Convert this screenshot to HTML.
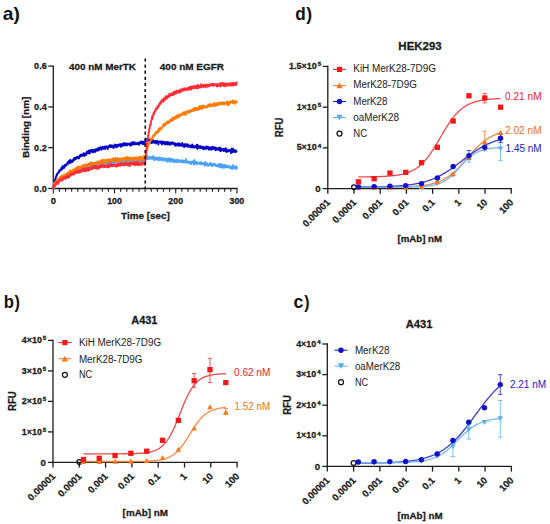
<!DOCTYPE html>
<html><head><meta charset="utf-8"><style>
html,body{margin:0;padding:0;background:#fff;overflow:hidden;}
svg{display:block;font-family:"Liberation Sans", sans-serif;}
</style></head><body>
<svg width="550" height="524" viewBox="0 0 550 524">
<rect width="550" height="524" fill="#fff"/>
<text id="t_a_lab" x="8.20" y="19.70" font-size="18.5" font-weight="bold" fill="#111" text-anchor="middle" textLength="10.68" lengthAdjust="spacingAndGlyphs">a</text>
<text id="t_a_par" x="16.65" y="19.80" font-size="18.5" font-weight="bold" fill="#111" text-anchor="middle" textLength="6.38" lengthAdjust="spacingAndGlyphs">)</text>
<text id="t_d_lab" x="300.40" y="19.70" font-size="18.5" font-weight="bold" fill="#111" text-anchor="middle" textLength="10.48" lengthAdjust="spacingAndGlyphs">d</text>
<text id="t_d_par" x="309.20" y="19.80" font-size="18.5" font-weight="bold" fill="#111" text-anchor="middle" textLength="5.88" lengthAdjust="spacingAndGlyphs">)</text>
<text id="t_b_lab" x="8.95" y="307.70" font-size="18.5" font-weight="bold" fill="#111" text-anchor="middle" textLength="10.18" lengthAdjust="spacingAndGlyphs">b</text>
<text id="t_b_par" x="17.30" y="307.60" font-size="18.5" font-weight="bold" fill="#111" text-anchor="middle" textLength="5.48" lengthAdjust="spacingAndGlyphs">)</text>
<text id="t_c_lab" x="298.50" y="308.00" font-size="18.5" font-weight="bold" fill="#111" text-anchor="middle" textLength="9.88" lengthAdjust="spacingAndGlyphs">c</text>
<text id="t_c_par" x="306.80" y="307.90" font-size="18.5" font-weight="bold" fill="#111" text-anchor="middle" textLength="5.28" lengthAdjust="spacingAndGlyphs">)</text>
<text id="t_a_mertk" x="102.45" y="69.80" font-size="9.3" font-weight="bold" fill="#1a1a1a" text-anchor="middle" textLength="67.04" lengthAdjust="spacingAndGlyphs" stroke="#1a1a1a" stroke-width="0.28">400 nM MerTK</text>
<text id="t_a_egfr" x="191.90" y="69.80" font-size="9.3" font-weight="bold" fill="#1a1a1a" text-anchor="middle" textLength="64.14" lengthAdjust="spacingAndGlyphs" stroke="#1a1a1a" stroke-width="0.28">400 nM EGFR</text>
<text id="t_a_time" x="145.40" y="219.00" font-size="9.6" font-weight="bold" fill="#1a1a1a" text-anchor="middle" textLength="48.57" lengthAdjust="spacingAndGlyphs" stroke="#1a1a1a" stroke-width="0.28">Time [sec]</text>
<text id="t_a_bind" x="0" y="0" font-size="9.6" font-weight="bold" fill="#1a1a1a" text-anchor="middle" textLength="61.17" lengthAdjust="spacingAndGlyphs" transform="translate(29.20 127.30) rotate(-90)" stroke="#1a1a1a" stroke-width="0.28">Binding [nm]</text>
<text id="t_d_title" x="420.00" y="50.30" font-size="11" font-weight="bold" fill="#1a1a1a" text-anchor="middle" textLength="43.28" lengthAdjust="spacingAndGlyphs" stroke="#1a1a1a" stroke-width="0.28">HEK293</text>
<text id="t_b_title" x="144.35" y="323.80" font-size="11" font-weight="bold" fill="#1a1a1a" text-anchor="middle" textLength="26.18" lengthAdjust="spacingAndGlyphs" stroke="#1a1a1a" stroke-width="0.28">A431</text>
<text id="t_c_title" x="419.10" y="327.70" font-size="11" font-weight="bold" fill="#1a1a1a" text-anchor="middle" textLength="26.68" lengthAdjust="spacingAndGlyphs" stroke="#1a1a1a" stroke-width="0.28">A431</text>
<text id="t_d_xl" x="419.75" y="241.80" font-size="9.5" font-weight="bold" fill="#1a1a1a" text-anchor="middle" textLength="44.66" lengthAdjust="spacingAndGlyphs" stroke="#1a1a1a" stroke-width="0.28">[mAb] nM</text>
<text id="t_b_xl" x="145.30" y="515.90" font-size="9.5" font-weight="bold" fill="#1a1a1a" text-anchor="middle" textLength="45.36" lengthAdjust="spacingAndGlyphs" stroke="#1a1a1a" stroke-width="0.28">[mAb] nM</text>
<text id="t_c_xl" x="420.10" y="519.00" font-size="9.5" font-weight="bold" fill="#1a1a1a" text-anchor="middle" textLength="44.96" lengthAdjust="spacingAndGlyphs" stroke="#1a1a1a" stroke-width="0.28">[mAb] nM</text>
<text id="t_d_rfu" x="0" y="0" font-size="10.8" font-weight="bold" fill="#1a1a1a" text-anchor="middle" textLength="19.76" lengthAdjust="spacingAndGlyphs" transform="translate(283.30 127.35) rotate(-90)" stroke="#1a1a1a" stroke-width="0.28">RFU</text>
<text id="t_b_rfu" x="0" y="0" font-size="10.8" font-weight="bold" fill="#1a1a1a" text-anchor="middle" textLength="19.66" lengthAdjust="spacingAndGlyphs" transform="translate(16.20 401.20) rotate(-90)" stroke="#1a1a1a" stroke-width="0.28">RFU</text>
<text id="t_c_rfu" x="0" y="0" font-size="10.8" font-weight="bold" fill="#1a1a1a" text-anchor="middle" textLength="19.66" lengthAdjust="spacingAndGlyphs" transform="translate(291.20 405.00) rotate(-90)" stroke="#1a1a1a" stroke-width="0.28">RFU</text>
<text id="t_d_l1" x="394.65" y="72.00" font-size="10" font-weight="normal" fill="#1a1a1a" text-anchor="middle" textLength="82.70" lengthAdjust="spacingAndGlyphs">KiH MerK28-7D9G</text>
<text id="t_d_l2" x="385.05" y="88.40" font-size="10" font-weight="normal" fill="#1a1a1a" text-anchor="middle" textLength="63.50" lengthAdjust="spacingAndGlyphs">MerK28-7D9G</text>
<text id="t_d_l3" x="370.35" y="104.70" font-size="10" font-weight="normal" fill="#1a1a1a" text-anchor="middle" textLength="34.10" lengthAdjust="spacingAndGlyphs">MerK28</text>
<text id="t_d_l4" x="376.10" y="121.10" font-size="10" font-weight="normal" fill="#1a1a1a" text-anchor="middle" textLength="45.60" lengthAdjust="spacingAndGlyphs">oaMerK28</text>
<text id="t_d_l5" x="360.20" y="136.80" font-size="10" font-weight="normal" fill="#1a1a1a" text-anchor="middle" textLength="13.80" lengthAdjust="spacingAndGlyphs">NC</text>
<text id="t_b_l1" x="120.00" y="346.00" font-size="10" font-weight="normal" fill="#1a1a1a" text-anchor="middle" textLength="82.20" lengthAdjust="spacingAndGlyphs">KiH MerK28-7D9G</text>
<text id="t_b_l2" x="110.70" y="362.60" font-size="10" font-weight="normal" fill="#1a1a1a" text-anchor="middle" textLength="63.60" lengthAdjust="spacingAndGlyphs">MerK28-7D9G</text>
<text id="t_b_l3" x="85.55" y="378.00" font-size="10" font-weight="normal" fill="#1a1a1a" text-anchor="middle" textLength="13.30" lengthAdjust="spacingAndGlyphs">NC</text>
<text id="t_c_l1" x="372.20" y="353.60" font-size="10" font-weight="normal" fill="#1a1a1a" text-anchor="middle" textLength="34.60" lengthAdjust="spacingAndGlyphs">MerK28</text>
<text id="t_c_l2" x="377.50" y="369.60" font-size="10" font-weight="normal" fill="#1a1a1a" text-anchor="middle" textLength="45.20" lengthAdjust="spacingAndGlyphs">oaMerK28</text>
<text id="t_c_l3" x="361.50" y="385.60" font-size="10" font-weight="normal" fill="#1a1a1a" text-anchor="middle" textLength="13.20" lengthAdjust="spacingAndGlyphs">NC</text>
<text id="t_d_e1" x="523.30" y="100.00" font-size="10" font-weight="normal" fill="#f01c2c" text-anchor="middle" textLength="36.80" lengthAdjust="spacingAndGlyphs">0.21 nM</text>
<text id="t_d_e2" x="523.30" y="134.40" font-size="10" font-weight="normal" fill="#f27020" text-anchor="middle" textLength="36.80" lengthAdjust="spacingAndGlyphs">2.02 nM</text>
<text id="t_d_e3" x="523.65" y="152.00" font-size="10" font-weight="normal" fill="#2020c0" text-anchor="middle" textLength="36.10" lengthAdjust="spacingAndGlyphs">1.45 nM</text>
<text id="t_b_e1" x="252.20" y="376.00" font-size="10" font-weight="normal" fill="#f01c2c" text-anchor="middle" textLength="36.20" lengthAdjust="spacingAndGlyphs">0.62 nM</text>
<text id="t_b_e2" x="252.45" y="409.80" font-size="10" font-weight="normal" fill="#f27020" text-anchor="middle" textLength="35.70" lengthAdjust="spacingAndGlyphs">1.52 nM</text>
<text id="t_c_e1" x="528.00" y="387.50" font-size="10" font-weight="normal" fill="#2020c0" text-anchor="middle" textLength="36.20" lengthAdjust="spacingAndGlyphs">2.21 nM</text>
<line x1="53.30" y1="65.50" x2="53.30" y2="189.15" stroke="#1c1c1c" stroke-width="1.3"/>
<line x1="52.65" y1="188.50" x2="237.58" y2="188.50" stroke="#1c1c1c" stroke-width="1.3"/>
<line x1="48.30" y1="188.50" x2="53.30" y2="188.50" stroke="#1c1c1c" stroke-width="1.3"/>
<text id="t_a_y0.0" x="40.40" y="191.80" font-size="9" font-weight="bold" fill="#1a1a1a" text-anchor="middle" textLength="12.52" lengthAdjust="spacingAndGlyphs" stroke="#1a1a1a" stroke-width="0.28">0.0</text>
<line x1="48.30" y1="147.70" x2="53.30" y2="147.70" stroke="#1c1c1c" stroke-width="1.3"/>
<text id="t_a_y0.2" x="40.40" y="151.00" font-size="9" font-weight="bold" fill="#1a1a1a" text-anchor="middle" textLength="12.52" lengthAdjust="spacingAndGlyphs" stroke="#1a1a1a" stroke-width="0.28">0.2</text>
<line x1="48.30" y1="106.90" x2="53.30" y2="106.90" stroke="#1c1c1c" stroke-width="1.3"/>
<text id="t_a_y0.4" x="40.40" y="110.20" font-size="9" font-weight="bold" fill="#1a1a1a" text-anchor="middle" textLength="12.52" lengthAdjust="spacingAndGlyphs" stroke="#1a1a1a" stroke-width="0.28">0.4</text>
<line x1="48.30" y1="66.10" x2="53.30" y2="66.10" stroke="#1c1c1c" stroke-width="1.3"/>
<text id="t_a_y0.6" x="40.40" y="69.40" font-size="9" font-weight="bold" fill="#1a1a1a" text-anchor="middle" textLength="12.52" lengthAdjust="spacingAndGlyphs" stroke="#1a1a1a" stroke-width="0.28">0.6</text>
<line x1="53.30" y1="188.50" x2="53.30" y2="193.50" stroke="#1c1c1c" stroke-width="1.1"/>
<line x1="59.42" y1="188.50" x2="59.42" y2="191.70" stroke="#1c1c1c" stroke-width="1.1"/>
<line x1="65.54" y1="188.50" x2="65.54" y2="191.70" stroke="#1c1c1c" stroke-width="1.1"/>
<line x1="71.66" y1="188.50" x2="71.66" y2="191.70" stroke="#1c1c1c" stroke-width="1.1"/>
<line x1="77.78" y1="188.50" x2="77.78" y2="191.70" stroke="#1c1c1c" stroke-width="1.1"/>
<line x1="83.91" y1="188.50" x2="83.91" y2="191.70" stroke="#1c1c1c" stroke-width="1.1"/>
<line x1="90.03" y1="188.50" x2="90.03" y2="191.70" stroke="#1c1c1c" stroke-width="1.1"/>
<line x1="96.15" y1="188.50" x2="96.15" y2="191.70" stroke="#1c1c1c" stroke-width="1.1"/>
<line x1="102.27" y1="188.50" x2="102.27" y2="191.70" stroke="#1c1c1c" stroke-width="1.1"/>
<line x1="108.39" y1="188.50" x2="108.39" y2="191.70" stroke="#1c1c1c" stroke-width="1.1"/>
<line x1="114.51" y1="188.50" x2="114.51" y2="193.50" stroke="#1c1c1c" stroke-width="1.1"/>
<line x1="120.63" y1="188.50" x2="120.63" y2="191.70" stroke="#1c1c1c" stroke-width="1.1"/>
<line x1="126.75" y1="188.50" x2="126.75" y2="191.70" stroke="#1c1c1c" stroke-width="1.1"/>
<line x1="132.87" y1="188.50" x2="132.87" y2="191.70" stroke="#1c1c1c" stroke-width="1.1"/>
<line x1="138.99" y1="188.50" x2="138.99" y2="191.70" stroke="#1c1c1c" stroke-width="1.1"/>
<line x1="145.12" y1="188.50" x2="145.12" y2="191.70" stroke="#1c1c1c" stroke-width="1.1"/>
<line x1="151.24" y1="188.50" x2="151.24" y2="191.70" stroke="#1c1c1c" stroke-width="1.1"/>
<line x1="157.36" y1="188.50" x2="157.36" y2="191.70" stroke="#1c1c1c" stroke-width="1.1"/>
<line x1="163.48" y1="188.50" x2="163.48" y2="191.70" stroke="#1c1c1c" stroke-width="1.1"/>
<line x1="169.60" y1="188.50" x2="169.60" y2="191.70" stroke="#1c1c1c" stroke-width="1.1"/>
<line x1="175.72" y1="188.50" x2="175.72" y2="193.50" stroke="#1c1c1c" stroke-width="1.1"/>
<line x1="181.84" y1="188.50" x2="181.84" y2="191.70" stroke="#1c1c1c" stroke-width="1.1"/>
<line x1="187.96" y1="188.50" x2="187.96" y2="191.70" stroke="#1c1c1c" stroke-width="1.1"/>
<line x1="194.08" y1="188.50" x2="194.08" y2="191.70" stroke="#1c1c1c" stroke-width="1.1"/>
<line x1="200.20" y1="188.50" x2="200.20" y2="191.70" stroke="#1c1c1c" stroke-width="1.1"/>
<line x1="206.32" y1="188.50" x2="206.32" y2="191.70" stroke="#1c1c1c" stroke-width="1.1"/>
<line x1="212.45" y1="188.50" x2="212.45" y2="191.70" stroke="#1c1c1c" stroke-width="1.1"/>
<line x1="218.57" y1="188.50" x2="218.57" y2="191.70" stroke="#1c1c1c" stroke-width="1.1"/>
<line x1="224.69" y1="188.50" x2="224.69" y2="191.70" stroke="#1c1c1c" stroke-width="1.1"/>
<line x1="230.81" y1="188.50" x2="230.81" y2="191.70" stroke="#1c1c1c" stroke-width="1.1"/>
<line x1="236.93" y1="188.50" x2="236.93" y2="193.50" stroke="#1c1c1c" stroke-width="1.1"/>
<text id="t_a_x0" x="53.30" y="204.00" font-size="9" font-weight="bold" fill="#1a1a1a" text-anchor="middle" textLength="5.22" lengthAdjust="spacingAndGlyphs" stroke="#1a1a1a" stroke-width="0.28">0</text>
<text id="t_a_x100" x="114.51" y="204.00" font-size="9" font-weight="bold" fill="#1a1a1a" text-anchor="middle" textLength="14.72" lengthAdjust="spacingAndGlyphs" stroke="#1a1a1a" stroke-width="0.28">100</text>
<text id="t_a_x200" x="175.72" y="204.00" font-size="9" font-weight="bold" fill="#1a1a1a" text-anchor="middle" textLength="14.72" lengthAdjust="spacingAndGlyphs" stroke="#1a1a1a" stroke-width="0.28">200</text>
<text id="t_a_x300" x="236.93" y="204.00" font-size="9" font-weight="bold" fill="#1a1a1a" text-anchor="middle" textLength="14.72" lengthAdjust="spacingAndGlyphs" stroke="#1a1a1a" stroke-width="0.28">300</text>
<path d="M53.30 188.50 L53.48 187.15 L53.65 185.73 L53.83 184.63 L54.01 184.56 L54.18 183.83 L54.36 184.43 L54.54 185.24 L54.72 183.59 L54.89 183.31 L55.07 184.03 L55.25 183.76 L55.42 183.40 L55.60 182.42 L55.78 182.98 L55.95 183.41 L56.13 181.62 L56.31 182.18 L56.48 180.87 L56.66 181.21 L56.84 180.62 L57.02 181.75 L57.19 180.78 L57.37 181.86 L57.55 181.63 L57.72 181.21 L57.90 179.20 L58.08 180.64 L58.25 180.89 L58.43 180.88 L58.61 179.42 L58.78 180.12 L58.96 179.59 L59.14 179.58 L59.31 180.94 L59.49 179.31 L59.67 179.80 L59.85 180.40 L60.02 179.09 L60.20 179.33 L60.38 179.38 L60.55 179.21 L60.73 178.05 L60.91 178.96 L61.08 179.86 L61.26 177.41 L61.44 179.21 L61.61 178.49 L61.79 177.76 L61.97 179.75 L62.15 178.63 L62.32 176.94 L62.50 177.84 L62.68 178.12 L62.85 177.39 L63.03 177.97 L63.21 177.25 L63.38 177.72 L63.56 178.22 L63.74 176.41 L63.91 177.00 L64.09 176.35 L64.27 176.71 L64.45 175.54 L64.62 175.92 L64.80 176.11 L64.98 176.88 L65.15 176.96 L65.33 174.88 L65.51 175.19 L65.68 176.24 L65.86 174.02 L66.04 175.14 L66.21 175.32 L66.39 176.30 L66.57 175.74 L66.74 174.82 L66.92 174.69 L67.10 174.68 L67.28 176.00 L67.45 174.33 L67.63 174.33 L67.81 174.76 L67.98 174.28 L68.16 174.12 L68.34 173.29 L68.51 174.07 L68.69 173.63 L68.87 174.82 L69.04 174.32 L69.22 173.68 L69.40 174.14 L69.58 173.24 L69.75 174.26 L69.93 173.32 L70.11 173.70 L70.28 172.11 L70.46 173.33 L70.64 171.61 L70.81 171.24 L70.99 172.54 L71.17 171.97 L71.34 172.74 L71.52 174.31 L71.70 171.77 L71.88 171.85 L72.05 172.42 L72.23 172.57 L72.41 171.95 L72.58 171.84 L72.76 172.48 L72.94 172.26 L73.11 170.93 L73.29 171.61 L73.47 171.62 L73.64 170.67 L73.82 171.64 L74.00 170.67 L74.18 172.05 L74.35 171.35 L74.53 171.19 L74.71 170.57 L74.88 170.87 L75.06 169.29 L75.24 169.90 L75.41 171.02 L75.59 168.96 L75.77 171.26 L75.94 169.11 L76.12 171.04 L76.30 169.69 L76.47 170.91 L76.65 170.32 L76.83 168.92 L77.01 171.07 L77.18 171.16 L77.36 169.88 L77.54 169.64 L77.71 169.66 L77.89 168.94 L78.07 170.53 L78.24 169.15 L78.42 169.48 L78.60 168.82 L78.77 168.88 L78.95 168.30 L79.13 170.26 L79.31 169.06 L79.48 169.89 L79.66 169.07 L79.84 168.44 L80.01 168.67 L80.19 168.42 L80.37 168.81 L80.54 168.44 L80.72 168.44 L80.90 167.51 L81.07 167.91 L81.25 169.82 L81.43 167.89 L81.61 167.53 L81.78 168.58 L81.96 169.38 L82.14 167.03 L82.31 167.97 L82.49 167.57 L82.67 166.61 L82.84 168.55 L83.02 167.88 L83.20 167.90 L83.37 167.19 L83.55 168.10 L83.73 167.25 L83.91 167.51 L84.08 166.68 L84.26 166.54 L84.44 168.53 L84.61 167.00 L84.79 167.58 L84.97 167.27 L85.14 166.89 L85.32 166.78 L85.50 167.64 L85.67 166.85 L85.85 166.91 L86.03 167.00 L86.20 167.87 L86.38 167.43 L86.56 167.14 L86.74 166.33 L86.91 165.63 L87.09 167.44 L87.27 167.41 L87.44 166.47 L87.62 166.97 L87.80 167.11 L87.97 167.11 L88.15 167.13 L88.33 165.98 L88.50 167.51 L88.68 165.26 L88.86 166.90 L89.04 166.56 L89.21 166.81 L89.39 167.57 L89.57 167.21 L89.74 165.06 L89.92 164.59 L90.10 166.55 L90.27 165.04 L90.45 165.79 L90.63 166.43 L90.80 164.40 L90.98 163.99 L91.16 165.84 L91.34 165.63 L91.51 165.35 L91.69 165.54 L91.87 164.78 L92.04 164.21 L92.22 165.25 L92.40 164.57 L92.57 163.99 L92.75 165.67 L92.93 165.17 L93.10 165.51 L93.28 164.35 L93.46 164.58 L93.63 164.27 L93.81 164.32 L93.99 165.15 L94.17 164.33 L94.34 165.20 L94.52 165.15 L94.70 166.46 L94.87 163.69 L95.05 165.48 L95.23 164.66 L95.40 164.68 L95.58 163.50 L95.76 164.25 L95.93 165.18 L96.11 164.48 L96.29 164.58 L96.47 164.25 L96.64 165.37 L96.82 164.39 L97.00 162.62 L97.17 163.79 L97.35 162.73 L97.53 161.67 L97.70 163.82 L97.88 165.27 L98.06 164.21 L98.23 163.20 L98.41 163.36 L98.59 164.98 L98.77 164.17 L98.94 164.05 L99.12 163.94 L99.30 163.98 L99.47 164.56 L99.65 164.33 L99.83 164.03 L100.00 162.99 L100.18 164.20 L100.36 163.22 L100.53 164.61 L100.71 162.69 L100.89 163.57 L101.07 163.64 L101.24 162.56 L101.42 164.96 L101.60 164.73 L101.77 163.16 L101.95 164.12 L102.13 163.78 L102.30 161.35 L102.48 163.62 L102.66 163.34 L102.83 163.43 L103.01 162.47 L103.19 163.09 L103.36 163.14 L103.54 164.20 L103.72 163.49 L103.90 163.19 L104.07 164.40 L104.25 162.70 L104.43 162.81 L104.60 161.64 L104.78 164.32 L104.96 163.81 L105.13 163.75 L105.31 163.53 L105.49 163.05 L105.66 163.11 L105.84 162.72 L106.02 162.73 L106.20 162.91 L106.37 164.05 L106.55 163.26 L106.73 162.75 L106.90 162.31 L107.08 162.24 L107.26 164.01 L107.43 163.11 L107.61 162.73 L107.79 162.38 L107.96 161.74 L108.14 162.56 L108.32 163.29 L108.50 162.25 L108.67 162.36 L108.85 162.34 L109.03 162.59 L109.20 161.20 L109.38 162.27 L109.56 161.75 L109.73 163.12 L109.91 161.77 L110.09 162.83 L110.26 163.57 L110.44 162.08 L110.62 161.82 L110.79 162.44 L110.97 162.26 L111.15 161.45 L111.33 162.59 L111.50 163.82 L111.68 161.98 L111.86 162.00 L112.03 161.31 L112.21 162.38 L112.39 161.11 L112.56 161.20 L112.74 163.09 L112.92 161.32 L113.09 162.89 L113.27 163.23 L113.45 162.20 L113.63 162.41 L113.80 163.51 L113.98 161.78 L114.16 161.44 L114.33 160.82 L114.51 161.91 L114.69 163.05 L114.86 162.61 L115.04 161.07 L115.22 161.13 L115.39 161.39 L115.57 162.01 L115.75 161.59 L115.93 161.91 L116.10 161.96 L116.28 161.47 L116.46 161.66 L116.63 161.84 L116.81 161.59 L116.99 162.04 L117.16 163.12 L117.34 162.08 L117.52 161.64 L117.69 160.23 L117.87 161.87 L118.05 159.99 L118.23 160.40 L118.40 162.20 L118.58 162.06 L118.76 161.36 L118.93 160.10 L119.11 161.15 L119.29 160.89 L119.46 161.93 L119.64 163.21 L119.82 161.56 L119.99 160.75 L120.17 160.42 L120.35 161.30 L120.52 161.19 L120.70 160.40 L120.88 161.40 L121.06 160.37 L121.23 162.16 L121.41 162.11 L121.59 162.12 L121.76 160.85 L121.94 161.63 L122.12 161.10 L122.29 160.88 L122.47 160.91 L122.65 160.13 L122.82 160.00 L123.00 161.77 L123.18 160.97 L123.36 161.29 L123.53 161.90 L123.71 159.70 L123.89 160.45 L124.06 161.20 L124.24 161.36 L124.42 160.74 L124.59 161.85 L124.77 161.18 L124.95 160.03 L125.12 160.24 L125.30 161.62 L125.48 161.33 L125.66 159.43 L125.83 162.02 L126.01 161.41 L126.19 161.99 L126.36 160.60 L126.54 160.66 L126.72 159.98 L126.89 162.90 L127.07 160.72 L127.25 162.12 L127.42 160.32 L127.60 160.96 L127.78 159.48 L127.95 160.50 L128.13 161.58 L128.31 159.78 L128.49 161.63 L128.66 161.03 L128.84 159.91 L129.02 160.34 L129.19 160.36 L129.37 160.68 L129.55 160.28 L129.72 160.03 L129.90 160.44 L130.08 159.85 L130.25 159.63 L130.43 160.62 L130.61 161.35 L130.79 159.41 L130.96 160.63 L131.14 160.10 L131.32 159.82 L131.49 161.28 L131.67 160.17 L131.85 161.78 L132.02 159.94 L132.20 160.87 L132.38 160.37 L132.55 159.94 L132.73 161.00 L132.91 160.40 L133.09 160.99 L133.26 160.47 L133.44 159.63 L133.62 160.40 L133.79 160.52 L133.97 161.23 L134.15 159.73 L134.32 160.42 L134.50 159.06 L134.68 160.95 L134.85 159.56 L135.03 158.97 L135.21 160.36 L135.39 161.28 L135.56 159.17 L135.74 159.51 L135.92 159.78 L136.09 159.46 L136.27 160.66 L136.45 159.70 L136.62 159.76 L136.80 160.80 L136.98 159.72 L137.15 160.66 L137.33 159.53 L137.51 159.33 L137.68 158.83 L137.86 161.78 L138.04 160.02 L138.22 160.47 L138.39 160.24 L138.57 160.39 L138.75 160.29 L138.92 161.77 L139.10 159.40 L139.28 158.98 L139.45 159.41 L139.63 159.15 L139.81 160.80 L139.98 160.86 L140.16 159.42 L140.34 159.07 L140.52 159.89 L140.69 161.28 L140.87 157.91 L141.05 160.58 L141.22 159.29 L141.40 160.98 L141.58 159.28 L141.75 159.90 L141.93 158.92 L142.11 159.34 L142.28 161.22 L142.46 160.76 L142.64 159.78 L142.82 159.40 L142.99 158.57 L143.17 159.76 L143.35 160.05 L143.52 160.00 L143.70 159.99 L143.88 159.16 L144.05 160.00 L144.23 160.01 L144.41 161.07 L144.58 161.52 L144.76 159.91 L144.94 159.41 L145.12 159.96" fill="none" stroke="#4ea2f5" stroke-width="1.8" stroke-linejoin="round"/>
<path d="M53.30 188.01 L53.48 186.83 L53.65 186.37 L53.83 184.63 L54.01 185.07 L54.18 183.66 L54.36 183.16 L54.54 182.08 L54.72 180.95 L54.89 180.11 L55.07 180.06 L55.25 179.22 L55.42 179.29 L55.60 178.57 L55.78 176.99 L55.95 177.66 L56.13 176.07 L56.31 176.22 L56.48 176.07 L56.66 174.25 L56.84 175.61 L57.02 175.29 L57.19 174.70 L57.37 174.15 L57.55 173.87 L57.72 173.08 L57.90 173.35 L58.08 172.83 L58.25 173.07 L58.43 171.76 L58.61 172.65 L58.78 172.33 L58.96 171.85 L59.14 171.37 L59.31 171.93 L59.49 169.93 L59.67 171.41 L59.85 171.01 L60.02 170.83 L60.20 170.70 L60.38 169.67 L60.55 169.78 L60.73 170.30 L60.91 169.94 L61.08 169.57 L61.26 168.01 L61.44 169.47 L61.61 169.79 L61.79 169.48 L61.97 168.69 L62.15 167.08 L62.32 168.91 L62.50 167.87 L62.68 165.79 L62.85 167.95 L63.03 166.29 L63.21 166.29 L63.38 166.65 L63.56 168.02 L63.74 166.55 L63.91 166.91 L64.09 167.93 L64.27 167.66 L64.45 166.15 L64.62 165.89 L64.80 164.92 L64.98 165.23 L65.15 165.98 L65.33 165.81 L65.51 165.43 L65.68 166.00 L65.86 164.44 L66.04 164.87 L66.21 165.36 L66.39 165.11 L66.57 165.36 L66.74 164.68 L66.92 163.98 L67.10 164.38 L67.28 163.16 L67.45 162.51 L67.63 164.16 L67.81 163.52 L67.98 163.68 L68.16 161.94 L68.34 162.88 L68.51 162.56 L68.69 162.22 L68.87 160.98 L69.04 162.39 L69.22 163.25 L69.40 162.72 L69.58 161.81 L69.75 162.15 L69.93 162.65 L70.11 159.71 L70.28 161.70 L70.46 162.11 L70.64 162.11 L70.81 162.80 L70.99 162.23 L71.17 161.46 L71.34 161.33 L71.52 161.60 L71.70 160.43 L71.88 160.71 L72.05 161.36 L72.23 162.09 L72.41 160.28 L72.58 160.26 L72.76 160.34 L72.94 161.15 L73.11 159.94 L73.29 161.03 L73.47 158.97 L73.64 159.49 L73.82 159.37 L74.00 160.05 L74.18 160.15 L74.35 158.01 L74.53 158.38 L74.71 159.27 L74.88 158.37 L75.06 157.58 L75.24 159.53 L75.41 158.99 L75.59 158.89 L75.77 158.01 L75.94 159.12 L76.12 158.00 L76.30 158.97 L76.47 157.27 L76.65 157.21 L76.83 157.96 L77.01 157.14 L77.18 158.15 L77.36 157.72 L77.54 156.68 L77.71 157.38 L77.89 156.95 L78.07 157.87 L78.24 156.54 L78.42 156.60 L78.60 157.83 L78.77 158.56 L78.95 158.28 L79.13 156.64 L79.31 156.67 L79.48 157.64 L79.66 156.22 L79.84 155.45 L80.01 156.24 L80.19 156.42 L80.37 155.31 L80.54 154.57 L80.72 154.65 L80.90 156.25 L81.07 155.02 L81.25 155.43 L81.43 155.63 L81.61 155.88 L81.78 155.03 L81.96 155.61 L82.14 154.42 L82.31 154.76 L82.49 154.15 L82.67 155.80 L82.84 154.79 L83.02 154.14 L83.20 154.37 L83.37 154.40 L83.55 155.06 L83.73 153.14 L83.91 153.51 L84.08 153.96 L84.26 156.22 L84.44 154.88 L84.61 153.95 L84.79 154.53 L84.97 155.54 L85.14 153.63 L85.32 153.45 L85.50 154.64 L85.67 153.99 L85.85 154.06 L86.03 153.05 L86.20 154.92 L86.38 154.68 L86.56 153.69 L86.74 153.72 L86.91 151.48 L87.09 153.54 L87.27 152.81 L87.44 153.24 L87.62 153.37 L87.80 152.48 L87.97 151.34 L88.15 152.92 L88.33 151.96 L88.50 152.23 L88.68 151.94 L88.86 152.08 L89.04 150.45 L89.21 153.20 L89.39 152.37 L89.57 152.99 L89.74 153.62 L89.92 151.99 L90.10 150.47 L90.27 151.13 L90.45 150.82 L90.63 151.32 L90.80 151.73 L90.98 150.00 L91.16 151.81 L91.34 150.27 L91.51 151.66 L91.69 151.27 L91.87 151.05 L92.04 151.18 L92.22 150.75 L92.40 150.63 L92.57 149.72 L92.75 150.99 L92.93 152.43 L93.10 152.48 L93.28 151.90 L93.46 151.35 L93.63 150.18 L93.81 151.82 L93.99 150.57 L94.17 150.50 L94.34 150.27 L94.52 150.52 L94.70 150.05 L94.87 150.28 L95.05 149.42 L95.23 149.94 L95.40 152.01 L95.58 150.07 L95.76 149.89 L95.93 150.45 L96.11 150.54 L96.29 149.03 L96.47 149.71 L96.64 150.56 L96.82 149.99 L97.00 149.82 L97.17 150.91 L97.35 149.08 L97.53 149.64 L97.70 149.11 L97.88 150.67 L98.06 147.86 L98.23 148.84 L98.41 148.91 L98.59 149.81 L98.77 149.72 L98.94 150.30 L99.12 147.88 L99.30 149.69 L99.47 148.81 L99.65 148.47 L99.83 149.39 L100.00 148.17 L100.18 147.20 L100.36 148.52 L100.53 147.58 L100.71 148.21 L100.89 148.98 L101.07 148.89 L101.24 149.87 L101.42 148.40 L101.60 147.29 L101.77 147.86 L101.95 147.69 L102.13 147.41 L102.30 148.69 L102.48 147.78 L102.66 146.68 L102.83 148.77 L103.01 148.09 L103.19 148.42 L103.36 148.18 L103.54 148.56 L103.72 148.04 L103.90 148.96 L104.07 148.27 L104.25 148.21 L104.43 148.18 L104.60 146.65 L104.78 147.64 L104.96 147.53 L105.13 147.87 L105.31 146.57 L105.49 148.93 L105.66 147.67 L105.84 146.58 L106.02 146.14 L106.20 147.25 L106.37 147.36 L106.55 146.82 L106.73 147.44 L106.90 146.81 L107.08 147.73 L107.26 146.68 L107.43 147.19 L107.61 147.97 L107.79 149.21 L107.96 146.31 L108.14 146.71 L108.32 146.37 L108.50 147.64 L108.67 146.06 L108.85 146.55 L109.03 146.88 L109.20 146.09 L109.38 146.07 L109.56 146.43 L109.73 145.09 L109.91 145.58 L110.09 146.38 L110.26 146.79 L110.44 146.49 L110.62 145.19 L110.79 146.21 L110.97 147.19 L111.15 146.96 L111.33 146.42 L111.50 145.74 L111.68 146.93 L111.86 145.93 L112.03 145.43 L112.21 145.69 L112.39 147.46 L112.56 146.45 L112.74 147.17 L112.92 145.83 L113.09 146.93 L113.27 145.67 L113.45 146.00 L113.63 148.08 L113.80 146.68 L113.98 145.63 L114.16 145.94 L114.33 146.24 L114.51 146.92 L114.69 145.53 L114.86 144.50 L115.04 145.64 L115.22 145.85 L115.39 145.90 L115.57 146.84 L115.75 146.01 L115.93 146.38 L116.10 144.82 L116.28 146.37 L116.46 147.33 L116.63 146.24 L116.81 145.80 L116.99 145.69 L117.16 146.97 L117.34 144.78 L117.52 145.40 L117.69 145.83 L117.87 146.04 L118.05 145.07 L118.23 145.64 L118.40 145.14 L118.58 145.44 L118.76 145.21 L118.93 144.38 L119.11 145.25 L119.29 145.95 L119.46 144.45 L119.64 145.00 L119.82 145.70 L119.99 144.29 L120.17 145.27 L120.35 144.25 L120.52 145.99 L120.70 146.91 L120.88 146.65 L121.06 144.83 L121.23 145.58 L121.41 145.06 L121.59 145.02 L121.76 146.16 L121.94 143.84 L122.12 145.72 L122.29 144.81 L122.47 145.96 L122.65 144.96 L122.82 144.25 L123.00 144.99 L123.18 145.33 L123.36 144.75 L123.53 145.09 L123.71 144.26 L123.89 142.95 L124.06 145.36 L124.24 145.18 L124.42 144.72 L124.59 144.63 L124.77 145.39 L124.95 144.17 L125.12 143.95 L125.30 144.35 L125.48 145.43 L125.66 143.35 L125.83 145.39 L126.01 143.91 L126.19 143.52 L126.36 145.39 L126.54 144.29 L126.72 143.30 L126.89 144.04 L127.07 145.05 L127.25 145.24 L127.42 143.93 L127.60 144.58 L127.78 144.80 L127.95 143.70 L128.13 144.48 L128.31 144.15 L128.49 143.73 L128.66 143.75 L128.84 144.18 L129.02 144.13 L129.19 143.64 L129.37 143.73 L129.55 144.95 L129.72 144.21 L129.90 144.73 L130.08 144.96 L130.25 144.46 L130.43 145.79 L130.61 143.29 L130.79 144.58 L130.96 143.67 L131.14 145.39 L131.32 145.25 L131.49 142.31 L131.67 143.08 L131.85 144.37 L132.02 144.45 L132.20 144.40 L132.38 143.73 L132.55 144.14 L132.73 144.28 L132.91 143.68 L133.09 144.55 L133.26 141.91 L133.44 144.21 L133.62 142.86 L133.79 144.44 L133.97 143.47 L134.15 142.93 L134.32 143.92 L134.50 142.88 L134.68 142.86 L134.85 142.33 L135.03 143.54 L135.21 143.95 L135.39 144.35 L135.56 143.41 L135.74 144.35 L135.92 143.51 L136.09 143.41 L136.27 143.93 L136.45 144.30 L136.62 143.17 L136.80 143.23 L136.98 143.28 L137.15 143.46 L137.33 142.66 L137.51 144.19 L137.68 143.04 L137.86 143.71 L138.04 142.67 L138.22 143.61 L138.39 143.62 L138.57 142.96 L138.75 144.90 L138.92 143.56 L139.10 144.68 L139.28 144.01 L139.45 142.70 L139.63 142.91 L139.81 143.55 L139.98 143.24 L140.16 143.22 L140.34 142.94 L140.52 141.71 L140.69 142.96 L140.87 141.36 L141.05 143.42 L141.22 142.53 L141.40 142.52 L141.58 142.91 L141.75 143.29 L141.93 141.92 L142.11 141.65 L142.28 142.19 L142.46 141.39 L142.64 142.24 L142.82 144.28 L142.99 142.15 L143.17 143.50 L143.35 141.87 L143.52 143.20 L143.70 142.69 L143.88 142.89 L144.05 143.38 L144.23 144.32 L144.41 143.06 L144.58 143.00 L144.76 142.11 L144.94 143.34 L145.12 142.67" fill="none" stroke="#0404c8" stroke-width="1.8" stroke-linejoin="round"/>
<path d="M53.30 189.17 L53.48 186.62 L53.65 186.94 L53.83 183.26 L54.01 184.14 L54.18 184.75 L54.36 183.50 L54.54 182.92 L54.72 183.14 L54.89 182.06 L55.07 183.09 L55.25 184.77 L55.42 183.57 L55.60 181.60 L55.78 181.62 L55.95 181.83 L56.13 182.80 L56.31 181.18 L56.48 181.12 L56.66 182.22 L56.84 182.05 L57.02 180.90 L57.19 180.15 L57.37 179.65 L57.55 180.18 L57.72 178.80 L57.90 181.03 L58.08 179.78 L58.25 180.52 L58.43 181.48 L58.61 180.78 L58.78 178.77 L58.96 180.24 L59.14 180.33 L59.31 178.66 L59.49 178.35 L59.67 178.88 L59.85 177.55 L60.02 179.87 L60.20 176.63 L60.38 177.53 L60.55 178.06 L60.73 177.96 L60.91 178.13 L61.08 178.08 L61.26 177.56 L61.44 178.51 L61.61 175.76 L61.79 177.33 L61.97 176.63 L62.15 177.18 L62.32 177.12 L62.50 176.09 L62.68 176.18 L62.85 177.20 L63.03 176.72 L63.21 175.77 L63.38 177.82 L63.56 177.91 L63.74 174.77 L63.91 176.06 L64.09 177.71 L64.27 176.21 L64.45 175.64 L64.62 175.18 L64.80 174.79 L64.98 174.94 L65.15 174.55 L65.33 175.47 L65.51 174.44 L65.68 174.29 L65.86 173.57 L66.04 174.38 L66.21 173.59 L66.39 174.05 L66.57 174.92 L66.74 174.27 L66.92 174.27 L67.10 174.04 L67.28 173.70 L67.45 173.44 L67.63 173.19 L67.81 173.94 L67.98 172.36 L68.16 174.19 L68.34 173.05 L68.51 172.32 L68.69 172.42 L68.87 172.17 L69.04 172.74 L69.22 171.94 L69.40 173.32 L69.58 171.69 L69.75 170.39 L69.93 171.53 L70.11 170.41 L70.28 171.89 L70.46 172.67 L70.64 172.25 L70.81 170.56 L70.99 170.93 L71.17 172.87 L71.34 171.61 L71.52 171.27 L71.70 172.01 L71.88 173.04 L72.05 172.03 L72.23 171.01 L72.41 171.09 L72.58 171.21 L72.76 170.14 L72.94 169.70 L73.11 170.50 L73.29 169.61 L73.47 170.24 L73.64 170.28 L73.82 171.99 L74.00 169.35 L74.18 169.85 L74.35 169.73 L74.53 170.13 L74.71 170.53 L74.88 169.22 L75.06 168.88 L75.24 168.14 L75.41 168.63 L75.59 169.72 L75.77 169.25 L75.94 168.32 L76.12 168.76 L76.30 169.01 L76.47 169.31 L76.65 168.35 L76.83 168.55 L77.01 167.22 L77.18 167.68 L77.36 169.82 L77.54 166.70 L77.71 168.11 L77.89 168.48 L78.07 167.93 L78.24 167.51 L78.42 168.04 L78.60 168.01 L78.77 167.88 L78.95 166.37 L79.13 167.69 L79.31 167.05 L79.48 167.23 L79.66 167.78 L79.84 168.04 L80.01 168.18 L80.19 167.00 L80.37 168.07 L80.54 168.20 L80.72 168.10 L80.90 168.24 L81.07 166.95 L81.25 166.86 L81.43 167.59 L81.61 165.78 L81.78 166.97 L81.96 166.32 L82.14 166.39 L82.31 165.23 L82.49 165.84 L82.67 166.48 L82.84 167.14 L83.02 167.17 L83.20 166.25 L83.37 166.10 L83.55 165.53 L83.73 166.46 L83.91 165.88 L84.08 166.50 L84.26 167.36 L84.44 165.87 L84.61 164.65 L84.79 165.10 L84.97 164.56 L85.14 164.72 L85.32 166.66 L85.50 165.74 L85.67 164.29 L85.85 165.98 L86.03 166.41 L86.20 165.06 L86.38 164.75 L86.56 164.97 L86.74 165.41 L86.91 165.64 L87.09 166.02 L87.27 166.00 L87.44 165.92 L87.62 166.01 L87.80 165.40 L87.97 163.60 L88.15 164.67 L88.33 164.97 L88.50 164.36 L88.68 165.35 L88.86 164.28 L89.04 163.78 L89.21 165.63 L89.39 164.96 L89.57 164.55 L89.74 165.07 L89.92 165.13 L90.10 164.51 L90.27 162.22 L90.45 163.60 L90.63 163.73 L90.80 163.26 L90.98 164.17 L91.16 164.92 L91.34 163.53 L91.51 162.96 L91.69 165.45 L91.87 163.42 L92.04 162.75 L92.22 163.89 L92.40 163.99 L92.57 163.05 L92.75 164.20 L92.93 163.14 L93.10 162.74 L93.28 163.58 L93.46 164.02 L93.63 162.85 L93.81 163.58 L93.99 163.20 L94.17 165.50 L94.34 162.63 L94.52 164.26 L94.70 163.07 L94.87 162.98 L95.05 163.61 L95.23 163.71 L95.40 163.97 L95.58 163.18 L95.76 162.40 L95.93 162.41 L96.11 163.21 L96.29 163.23 L96.47 163.85 L96.64 163.03 L96.82 163.51 L97.00 163.84 L97.17 162.72 L97.35 161.36 L97.53 161.57 L97.70 161.33 L97.88 163.72 L98.06 161.73 L98.23 163.36 L98.41 162.81 L98.59 163.68 L98.77 163.07 L98.94 162.15 L99.12 162.04 L99.30 162.24 L99.47 162.27 L99.65 161.68 L99.83 162.04 L100.00 163.32 L100.18 160.64 L100.36 162.18 L100.53 161.21 L100.71 162.06 L100.89 162.55 L101.07 161.80 L101.24 162.43 L101.42 160.51 L101.60 162.64 L101.77 161.24 L101.95 162.19 L102.13 161.80 L102.30 159.56 L102.48 160.99 L102.66 161.74 L102.83 162.78 L103.01 161.74 L103.19 161.69 L103.36 160.32 L103.54 162.57 L103.72 162.84 L103.90 161.39 L104.07 161.16 L104.25 160.01 L104.43 161.99 L104.60 163.42 L104.78 161.80 L104.96 162.21 L105.13 161.60 L105.31 160.36 L105.49 162.19 L105.66 160.10 L105.84 160.90 L106.02 161.26 L106.20 161.72 L106.37 161.32 L106.55 161.27 L106.73 160.33 L106.90 159.88 L107.08 160.93 L107.26 160.29 L107.43 159.79 L107.61 159.80 L107.79 160.39 L107.96 159.28 L108.14 159.66 L108.32 159.40 L108.50 160.83 L108.67 160.99 L108.85 162.24 L109.03 159.42 L109.20 160.05 L109.38 161.30 L109.56 160.37 L109.73 160.26 L109.91 161.87 L110.09 160.21 L110.26 159.53 L110.44 159.38 L110.62 160.68 L110.79 160.63 L110.97 159.27 L111.15 159.56 L111.33 160.75 L111.50 160.76 L111.68 159.76 L111.86 160.76 L112.03 160.69 L112.21 158.79 L112.39 159.95 L112.56 160.51 L112.74 159.69 L112.92 158.42 L113.09 159.89 L113.27 160.69 L113.45 161.34 L113.63 158.30 L113.80 162.12 L113.98 159.11 L114.16 160.76 L114.33 160.96 L114.51 160.74 L114.69 160.05 L114.86 158.99 L115.04 160.40 L115.22 159.31 L115.39 157.84 L115.57 162.10 L115.75 160.39 L115.93 161.26 L116.10 159.06 L116.28 160.94 L116.46 161.02 L116.63 160.98 L116.81 159.70 L116.99 158.73 L117.16 159.54 L117.34 157.90 L117.52 158.28 L117.69 159.70 L117.87 158.82 L118.05 159.46 L118.23 159.49 L118.40 161.10 L118.58 160.58 L118.76 159.49 L118.93 160.48 L119.11 158.87 L119.29 159.21 L119.46 160.19 L119.64 158.45 L119.82 159.21 L119.99 158.36 L120.17 159.49 L120.35 160.69 L120.52 158.76 L120.70 159.53 L120.88 158.62 L121.06 158.40 L121.23 158.32 L121.41 160.45 L121.59 161.16 L121.76 159.65 L121.94 158.67 L122.12 159.79 L122.29 158.95 L122.47 159.84 L122.65 159.42 L122.82 159.40 L123.00 159.64 L123.18 158.68 L123.36 158.81 L123.53 157.74 L123.71 158.75 L123.89 157.95 L124.06 158.96 L124.24 158.30 L124.42 159.13 L124.59 159.40 L124.77 157.89 L124.95 158.36 L125.12 158.24 L125.30 159.58 L125.48 160.33 L125.66 159.64 L125.83 158.66 L126.01 160.10 L126.19 157.71 L126.36 160.11 L126.54 158.37 L126.72 156.66 L126.89 160.99 L127.07 160.12 L127.25 158.02 L127.42 158.97 L127.60 158.65 L127.78 158.89 L127.95 157.61 L128.13 158.24 L128.31 159.15 L128.49 158.94 L128.66 159.71 L128.84 158.80 L129.02 160.61 L129.19 158.14 L129.37 158.91 L129.55 157.16 L129.72 157.68 L129.90 159.73 L130.08 157.91 L130.25 159.07 L130.43 158.59 L130.61 157.79 L130.79 158.34 L130.96 158.19 L131.14 158.21 L131.32 159.19 L131.49 159.10 L131.67 158.10 L131.85 157.83 L132.02 158.77 L132.20 158.45 L132.38 159.35 L132.55 160.64 L132.73 159.18 L132.91 158.47 L133.09 158.35 L133.26 157.79 L133.44 157.74 L133.62 157.65 L133.79 158.13 L133.97 158.09 L134.15 159.02 L134.32 158.10 L134.50 158.25 L134.68 157.42 L134.85 159.70 L135.03 158.79 L135.21 159.80 L135.39 159.00 L135.56 159.54 L135.74 158.14 L135.92 158.91 L136.09 160.49 L136.27 157.34 L136.45 159.25 L136.62 159.66 L136.80 158.63 L136.98 158.89 L137.15 159.30 L137.33 157.73 L137.51 158.59 L137.68 157.54 L137.86 157.69 L138.04 157.73 L138.22 158.11 L138.39 158.34 L138.57 158.58 L138.75 157.04 L138.92 159.81 L139.10 159.13 L139.28 158.77 L139.45 157.88 L139.63 158.09 L139.81 158.60 L139.98 158.48 L140.16 156.76 L140.34 158.74 L140.52 160.51 L140.69 156.60 L140.87 158.92 L141.05 158.40 L141.22 158.00 L141.40 159.21 L141.58 157.11 L141.75 158.21 L141.93 159.27 L142.11 157.90 L142.28 157.71 L142.46 158.14 L142.64 157.67 L142.82 159.30 L142.99 157.28 L143.17 158.73 L143.35 156.98 L143.52 158.55 L143.70 157.91 L143.88 155.87 L144.05 157.98 L144.23 157.10 L144.41 157.60 L144.58 159.23 L144.76 157.04 L144.94 157.08 L145.12 159.13" fill="none" stroke="#ff7a06" stroke-width="1.8" stroke-linejoin="round"/>
<path d="M53.30 188.60 L53.48 188.60 L53.65 186.88 L53.83 185.42 L54.01 185.76 L54.18 186.58 L54.36 186.13 L54.54 185.18 L54.72 185.05 L54.89 184.76 L55.07 184.23 L55.25 186.15 L55.42 184.42 L55.60 183.34 L55.78 183.73 L55.95 184.58 L56.13 184.37 L56.31 183.59 L56.48 183.01 L56.66 183.44 L56.84 181.91 L57.02 182.08 L57.19 183.67 L57.37 182.49 L57.55 183.06 L57.72 183.62 L57.90 183.02 L58.08 182.37 L58.25 183.97 L58.43 182.64 L58.61 181.67 L58.78 182.44 L58.96 182.05 L59.14 180.88 L59.31 181.52 L59.49 181.20 L59.67 179.60 L59.85 180.95 L60.02 180.74 L60.20 180.49 L60.38 179.38 L60.55 180.32 L60.73 180.46 L60.91 180.46 L61.08 179.32 L61.26 180.66 L61.44 179.03 L61.61 179.73 L61.79 180.87 L61.97 179.12 L62.15 179.15 L62.32 180.34 L62.50 179.03 L62.68 179.00 L62.85 179.31 L63.03 179.89 L63.21 177.10 L63.38 178.13 L63.56 177.87 L63.74 177.70 L63.91 177.79 L64.09 177.70 L64.27 178.53 L64.45 177.45 L64.62 178.18 L64.80 178.30 L64.98 177.27 L65.15 177.88 L65.33 179.02 L65.51 177.84 L65.68 176.95 L65.86 177.32 L66.04 176.53 L66.21 177.41 L66.39 177.79 L66.57 176.32 L66.74 176.73 L66.92 177.71 L67.10 176.30 L67.28 176.77 L67.45 175.69 L67.63 175.77 L67.81 175.93 L67.98 177.99 L68.16 175.84 L68.34 175.65 L68.51 175.54 L68.69 175.77 L68.87 176.34 L69.04 175.88 L69.22 177.28 L69.40 175.72 L69.58 176.62 L69.75 175.60 L69.93 175.78 L70.11 174.06 L70.28 175.03 L70.46 174.99 L70.64 174.77 L70.81 173.16 L70.99 175.51 L71.17 174.42 L71.34 174.30 L71.52 174.36 L71.70 174.31 L71.88 174.74 L72.05 173.32 L72.23 173.51 L72.41 174.41 L72.58 174.22 L72.76 173.73 L72.94 173.49 L73.11 173.21 L73.29 173.76 L73.47 174.67 L73.64 172.81 L73.82 174.80 L74.00 174.19 L74.18 173.08 L74.35 174.00 L74.53 172.13 L74.71 171.84 L74.88 172.13 L75.06 172.76 L75.24 172.76 L75.41 172.54 L75.59 172.96 L75.77 171.11 L75.94 173.15 L76.12 171.55 L76.30 172.09 L76.47 172.22 L76.65 171.56 L76.83 171.32 L77.01 171.55 L77.18 172.28 L77.36 172.70 L77.54 172.62 L77.71 171.31 L77.89 171.41 L78.07 171.24 L78.24 172.28 L78.42 170.22 L78.60 172.78 L78.77 171.35 L78.95 171.05 L79.13 171.89 L79.31 172.38 L79.48 171.77 L79.66 172.28 L79.84 171.49 L80.01 172.31 L80.19 172.26 L80.37 171.13 L80.54 172.30 L80.72 171.23 L80.90 171.11 L81.07 170.25 L81.25 170.70 L81.43 171.50 L81.61 169.77 L81.78 171.29 L81.96 170.99 L82.14 170.88 L82.31 168.84 L82.49 170.47 L82.67 171.02 L82.84 169.84 L83.02 170.47 L83.20 168.44 L83.37 170.83 L83.55 169.72 L83.73 170.89 L83.91 168.67 L84.08 170.65 L84.26 169.86 L84.44 170.64 L84.61 169.21 L84.79 169.41 L84.97 171.65 L85.14 169.14 L85.32 169.19 L85.50 169.49 L85.67 168.85 L85.85 170.57 L86.03 170.95 L86.20 168.96 L86.38 168.10 L86.56 170.37 L86.74 170.28 L86.91 170.00 L87.09 170.23 L87.27 168.56 L87.44 169.08 L87.62 168.06 L87.80 167.99 L87.97 169.87 L88.15 168.51 L88.33 170.82 L88.50 169.02 L88.68 168.40 L88.86 169.51 L89.04 170.28 L89.21 169.18 L89.39 167.78 L89.57 169.01 L89.74 169.77 L89.92 168.24 L90.10 167.97 L90.27 169.37 L90.45 168.63 L90.63 167.59 L90.80 168.13 L90.98 167.79 L91.16 168.60 L91.34 168.41 L91.51 169.21 L91.69 168.82 L91.87 166.96 L92.04 168.50 L92.22 168.86 L92.40 168.47 L92.57 168.89 L92.75 167.59 L92.93 167.23 L93.10 168.70 L93.28 167.07 L93.46 166.16 L93.63 168.67 L93.81 167.24 L93.99 167.54 L94.17 166.63 L94.34 166.66 L94.52 166.76 L94.70 167.36 L94.87 167.91 L95.05 165.75 L95.23 168.15 L95.40 166.57 L95.58 166.63 L95.76 168.00 L95.93 167.36 L96.11 166.16 L96.29 168.84 L96.47 166.64 L96.64 167.50 L96.82 167.43 L97.00 168.37 L97.17 166.84 L97.35 167.98 L97.53 166.55 L97.70 168.01 L97.88 166.48 L98.06 166.77 L98.23 168.55 L98.41 167.25 L98.59 167.06 L98.77 168.74 L98.94 167.20 L99.12 166.23 L99.30 167.45 L99.47 165.88 L99.65 167.70 L99.83 167.74 L100.00 166.29 L100.18 166.22 L100.36 166.83 L100.53 166.68 L100.71 165.86 L100.89 167.07 L101.07 164.95 L101.24 166.21 L101.42 166.21 L101.60 166.29 L101.77 166.73 L101.95 165.48 L102.13 166.90 L102.30 166.26 L102.48 165.86 L102.66 165.26 L102.83 165.39 L103.01 166.60 L103.19 165.51 L103.36 166.31 L103.54 167.09 L103.72 167.04 L103.90 167.44 L104.07 165.93 L104.25 165.27 L104.43 166.94 L104.60 166.34 L104.78 166.97 L104.96 166.06 L105.13 166.98 L105.31 166.68 L105.49 166.56 L105.66 166.36 L105.84 166.26 L106.02 166.10 L106.20 166.08 L106.37 166.67 L106.55 165.44 L106.73 167.22 L106.90 165.73 L107.08 166.58 L107.26 165.70 L107.43 165.55 L107.61 167.35 L107.79 165.46 L107.96 164.67 L108.14 165.10 L108.32 165.39 L108.50 167.35 L108.67 165.77 L108.85 166.34 L109.03 164.77 L109.20 165.83 L109.38 166.07 L109.56 166.95 L109.73 164.93 L109.91 165.95 L110.09 165.70 L110.26 164.62 L110.44 165.40 L110.62 165.19 L110.79 163.52 L110.97 165.84 L111.15 165.78 L111.33 164.97 L111.50 164.24 L111.68 166.47 L111.86 165.49 L112.03 166.07 L112.21 166.37 L112.39 164.80 L112.56 165.85 L112.74 164.99 L112.92 165.12 L113.09 165.08 L113.27 165.14 L113.45 166.01 L113.63 165.20 L113.80 164.96 L113.98 164.85 L114.16 165.33 L114.33 164.32 L114.51 164.62 L114.69 164.96 L114.86 164.54 L115.04 164.88 L115.22 164.47 L115.39 166.55 L115.57 165.99 L115.75 165.27 L115.93 164.86 L116.10 166.64 L116.28 165.13 L116.46 164.78 L116.63 165.08 L116.81 165.07 L116.99 165.94 L117.16 164.78 L117.34 166.46 L117.52 164.06 L117.69 165.31 L117.87 163.94 L118.05 166.18 L118.23 164.45 L118.40 164.65 L118.58 165.42 L118.76 165.68 L118.93 163.77 L119.11 164.37 L119.29 163.51 L119.46 164.73 L119.64 164.52 L119.82 164.31 L119.99 164.03 L120.17 164.26 L120.35 163.96 L120.52 164.96 L120.70 165.74 L120.88 162.97 L121.06 164.41 L121.23 164.16 L121.41 164.87 L121.59 163.70 L121.76 164.34 L121.94 163.61 L122.12 164.99 L122.29 164.50 L122.47 164.28 L122.65 164.69 L122.82 164.19 L123.00 163.13 L123.18 164.84 L123.36 164.58 L123.53 164.21 L123.71 165.11 L123.89 165.29 L124.06 163.43 L124.24 163.67 L124.42 165.52 L124.59 165.40 L124.77 163.67 L124.95 163.30 L125.12 163.73 L125.30 163.83 L125.48 162.95 L125.66 164.23 L125.83 163.17 L126.01 163.22 L126.19 164.91 L126.36 163.62 L126.54 164.10 L126.72 164.65 L126.89 164.78 L127.07 163.85 L127.25 164.15 L127.42 163.44 L127.60 165.49 L127.78 164.61 L127.95 163.19 L128.13 164.07 L128.31 164.63 L128.49 164.43 L128.66 165.50 L128.84 165.13 L129.02 163.59 L129.19 163.94 L129.37 162.98 L129.55 164.19 L129.72 164.10 L129.90 166.14 L130.08 164.04 L130.25 162.28 L130.43 163.41 L130.61 164.03 L130.79 162.93 L130.96 163.23 L131.14 163.62 L131.32 164.18 L131.49 163.76 L131.67 163.18 L131.85 164.51 L132.02 163.44 L132.20 163.46 L132.38 162.75 L132.55 163.22 L132.73 164.36 L132.91 162.54 L133.09 163.77 L133.26 164.39 L133.44 163.50 L133.62 163.99 L133.79 162.90 L133.97 164.83 L134.15 164.66 L134.32 163.96 L134.50 162.36 L134.68 162.92 L134.85 164.53 L135.03 165.11 L135.21 163.97 L135.39 164.72 L135.56 163.23 L135.74 163.56 L135.92 163.70 L136.09 164.03 L136.27 162.46 L136.45 164.43 L136.62 164.73 L136.80 162.75 L136.98 162.58 L137.15 163.93 L137.33 163.12 L137.51 161.74 L137.68 164.28 L137.86 163.75 L138.04 163.24 L138.22 165.30 L138.39 163.72 L138.57 163.00 L138.75 163.67 L138.92 162.76 L139.10 162.97 L139.28 163.88 L139.45 163.13 L139.63 163.20 L139.81 164.89 L139.98 164.24 L140.16 164.19 L140.34 163.96 L140.52 163.92 L140.69 164.69 L140.87 163.50 L141.05 165.00 L141.22 162.75 L141.40 163.30 L141.58 162.39 L141.75 163.22 L141.93 163.90 L142.11 164.64 L142.28 162.94 L142.46 163.47 L142.64 163.18 L142.82 162.87 L142.99 162.50 L143.17 163.49 L143.35 162.05 L143.52 163.52 L143.70 163.45 L143.88 162.90 L144.05 162.61 L144.23 162.31 L144.41 164.91 L144.58 162.33 L144.76 164.64 L144.94 163.87 L145.12 163.10" fill="none" stroke="#ff2c38" stroke-width="1.8" stroke-linejoin="round"/>
<path d="M145.12 159.09 L145.29 160.26 L145.47 160.17 L145.65 157.43 L145.82 157.48 L146.00 158.34 L146.18 157.76 L146.35 159.09 L146.53 157.04 L146.71 157.93 L146.88 156.50 L147.06 159.19 L147.24 156.93 L147.41 155.76 L147.59 157.43 L147.77 157.43 L147.95 159.09 L148.12 157.30 L148.30 157.57 L148.48 158.07 L148.65 158.88 L148.83 157.57 L149.01 158.47 L149.18 158.07 L149.36 157.44 L149.54 157.75 L149.71 157.73 L149.89 156.99 L150.07 158.72 L150.25 156.66 L150.42 158.73 L150.60 158.57 L150.78 157.76 L150.95 157.24 L151.13 157.70 L151.31 158.28 L151.48 158.52 L151.66 158.18 L151.84 158.76 L152.01 157.55 L152.19 158.21 L152.37 156.79 L152.55 158.68 L152.72 158.22 L152.90 157.79 L153.08 159.07 L153.25 158.72 L153.43 155.94 L153.61 158.25 L153.78 157.08 L153.96 159.13 L154.14 160.29 L154.31 157.91 L154.49 158.41 L154.67 158.17 L154.84 158.68 L155.02 158.94 L155.20 159.48 L155.38 157.68 L155.55 159.75 L155.73 157.77 L155.91 158.76 L156.08 159.49 L156.26 159.16 L156.44 157.86 L156.61 158.07 L156.79 158.28 L156.97 158.63 L157.14 159.61 L157.32 157.68 L157.50 159.10 L157.68 159.24 L157.85 159.22 L158.03 159.16 L158.21 160.02 L158.38 159.22 L158.56 159.53 L158.74 159.32 L158.91 160.32 L159.09 157.38 L159.27 159.95 L159.44 158.73 L159.62 158.74 L159.80 158.20 L159.98 157.50 L160.15 158.71 L160.33 158.49 L160.51 159.45 L160.68 157.90 L160.86 160.24 L161.04 159.33 L161.21 158.93 L161.39 158.58 L161.57 158.54 L161.74 158.29 L161.92 158.77 L162.10 159.23 L162.28 159.11 L162.45 158.13 L162.63 159.07 L162.81 158.59 L162.98 159.45 L163.16 160.83 L163.34 159.86 L163.51 159.13 L163.69 158.10 L163.87 158.29 L164.04 158.09 L164.22 160.04 L164.40 158.86 L164.57 159.55 L164.75 159.02 L164.93 159.61 L165.11 160.67 L165.28 159.02 L165.46 159.32 L165.64 158.97 L165.81 160.33 L165.99 158.83 L166.17 158.76 L166.34 158.58 L166.52 158.58 L166.70 160.10 L166.87 161.80 L167.05 158.97 L167.23 160.54 L167.41 160.00 L167.58 158.94 L167.76 159.62 L167.94 159.67 L168.11 159.33 L168.29 161.44 L168.47 158.39 L168.64 160.24 L168.82 160.22 L169.00 159.51 L169.17 160.11 L169.35 160.71 L169.53 160.15 L169.71 160.38 L169.88 160.62 L170.06 158.46 L170.24 161.29 L170.41 161.95 L170.59 160.93 L170.77 160.98 L170.94 159.06 L171.12 160.11 L171.30 159.57 L171.47 159.77 L171.65 161.03 L171.83 159.64 L172.00 160.19 L172.18 158.79 L172.36 160.21 L172.54 160.43 L172.71 159.81 L172.89 159.82 L173.07 161.92 L173.24 159.46 L173.42 159.61 L173.60 159.82 L173.77 161.45 L173.95 162.19 L174.13 160.79 L174.30 159.97 L174.48 160.22 L174.66 161.44 L174.84 159.88 L175.01 161.79 L175.19 161.78 L175.37 160.72 L175.54 161.20 L175.72 161.30 L175.90 161.96 L176.07 159.90 L176.25 161.70 L176.43 160.48 L176.60 160.18 L176.78 160.90 L176.96 160.66 L177.14 160.06 L177.31 159.59 L177.49 160.14 L177.67 162.07 L177.84 162.50 L178.02 161.47 L178.20 161.92 L178.37 160.57 L178.55 160.94 L178.73 161.25 L178.90 160.18 L179.08 160.27 L179.26 161.16 L179.44 160.85 L179.61 160.27 L179.79 161.45 L179.97 160.95 L180.14 162.00 L180.32 161.19 L180.50 160.98 L180.67 161.34 L180.85 161.12 L181.03 160.74 L181.20 160.97 L181.38 161.91 L181.56 161.85 L181.73 162.38 L181.91 160.02 L182.09 161.07 L182.27 161.08 L182.44 161.56 L182.62 161.08 L182.80 161.06 L182.97 162.11 L183.15 161.65 L183.33 160.59 L183.50 162.61 L183.68 162.36 L183.86 161.12 L184.03 162.26 L184.21 161.03 L184.39 162.54 L184.57 161.48 L184.74 161.03 L184.92 161.40 L185.10 161.10 L185.27 161.89 L185.45 161.89 L185.63 161.80 L185.80 161.34 L185.98 158.88 L186.16 161.90 L186.33 160.33 L186.51 162.06 L186.69 162.79 L186.87 162.12 L187.04 161.61 L187.22 161.80 L187.40 161.85 L187.57 161.54 L187.75 161.53 L187.93 161.28 L188.10 162.99 L188.28 162.04 L188.46 162.84 L188.63 161.89 L188.81 162.17 L188.99 162.00 L189.16 162.52 L189.34 162.83 L189.52 162.38 L189.70 161.67 L189.87 161.61 L190.05 163.58 L190.23 162.04 L190.40 162.05 L190.58 163.48 L190.76 163.20 L190.93 162.77 L191.11 162.04 L191.29 164.27 L191.46 162.72 L191.64 162.86 L191.82 162.31 L192.00 161.33 L192.17 161.41 L192.35 162.83 L192.53 162.83 L192.70 162.35 L192.88 161.62 L193.06 161.43 L193.23 162.34 L193.41 161.45 L193.59 163.36 L193.76 163.58 L193.94 164.94 L194.12 163.40 L194.30 162.24 L194.47 162.04 L194.65 160.00 L194.83 162.30 L195.00 162.65 L195.18 163.59 L195.36 163.33 L195.53 163.33 L195.71 163.05 L195.89 163.42 L196.06 164.07 L196.24 162.08 L196.42 162.59 L196.60 161.87 L196.77 164.29 L196.95 164.05 L197.13 163.64 L197.30 162.10 L197.48 163.22 L197.66 162.91 L197.83 163.18 L198.01 162.99 L198.19 163.58 L198.36 162.86 L198.54 163.88 L198.72 163.41 L198.89 163.01 L199.07 163.17 L199.25 162.93 L199.43 163.95 L199.60 163.11 L199.78 163.58 L199.96 163.05 L200.13 162.20 L200.31 164.13 L200.49 162.58 L200.66 163.99 L200.84 163.80 L201.02 162.16 L201.19 162.75 L201.37 163.12 L201.55 162.89 L201.73 162.63 L201.90 164.18 L202.08 163.42 L202.26 163.94 L202.43 163.31 L202.61 163.92 L202.79 163.10 L202.96 163.70 L203.14 164.20 L203.32 163.80 L203.49 163.41 L203.67 162.93 L203.85 163.96 L204.03 164.12 L204.20 163.66 L204.38 163.27 L204.56 164.34 L204.73 165.91 L204.91 163.71 L205.09 164.24 L205.26 164.29 L205.44 161.96 L205.62 164.13 L205.79 163.49 L205.97 165.18 L206.15 163.89 L206.32 163.49 L206.50 163.96 L206.68 164.29 L206.86 163.73 L207.03 164.16 L207.21 163.14 L207.39 164.06 L207.56 164.88 L207.74 165.86 L207.92 164.87 L208.09 164.54 L208.27 165.29 L208.45 165.18 L208.62 165.72 L208.80 165.27 L208.98 164.33 L209.16 164.66 L209.33 164.61 L209.51 164.73 L209.69 164.67 L209.86 163.91 L210.04 162.87 L210.22 164.04 L210.39 162.97 L210.57 164.67 L210.75 164.64 L210.92 163.32 L211.10 165.23 L211.28 165.39 L211.46 164.80 L211.63 166.07 L211.81 166.26 L211.99 163.82 L212.16 165.63 L212.34 165.18 L212.52 165.18 L212.69 165.61 L212.87 164.31 L213.05 164.43 L213.22 164.27 L213.40 164.34 L213.58 164.89 L213.76 163.83 L213.93 164.17 L214.11 165.49 L214.29 164.99 L214.46 165.38 L214.64 163.58 L214.82 164.49 L214.99 164.69 L215.17 165.18 L215.35 164.71 L215.52 165.94 L215.70 165.17 L215.88 165.25 L216.05 165.27 L216.23 165.84 L216.41 164.92 L216.59 166.22 L216.76 165.71 L216.94 165.48 L217.12 165.41 L217.29 165.82 L217.47 166.24 L217.65 166.20 L217.82 165.76 L218.00 166.19 L218.18 165.60 L218.35 166.53 L218.53 165.53 L218.71 163.91 L218.89 166.66 L219.06 165.69 L219.24 164.69 L219.42 165.49 L219.59 164.96 L219.77 167.37 L219.95 166.11 L220.12 164.48 L220.30 166.19 L220.48 165.45 L220.65 167.33 L220.83 164.97 L221.01 164.04 L221.19 165.91 L221.36 165.60 L221.54 165.56 L221.72 164.21 L221.89 166.28 L222.07 167.30 L222.25 164.45 L222.42 166.94 L222.60 165.57 L222.78 167.92 L222.95 166.41 L223.13 165.93 L223.31 166.99 L223.49 166.55 L223.66 165.67 L223.84 166.73 L224.02 165.78 L224.19 164.78 L224.37 167.85 L224.55 165.97 L224.72 165.78 L224.90 166.56 L225.08 165.06 L225.25 165.25 L225.43 165.95 L225.61 165.96 L225.78 166.45 L225.96 167.31 L226.14 166.05 L226.32 166.85 L226.49 166.96 L226.67 165.63 L226.85 166.70 L227.02 165.78 L227.20 167.41 L227.38 166.94 L227.55 166.61 L227.73 165.55 L227.91 166.73 L228.08 166.05 L228.26 167.25 L228.44 166.61 L228.62 166.07 L228.79 167.48 L228.97 167.34 L229.15 166.31 L229.32 167.74 L229.50 166.59 L229.68 166.60 L229.85 166.97 L230.03 166.29 L230.21 166.56 L230.38 166.80 L230.56 168.17 L230.74 168.17 L230.92 166.78 L231.09 168.30 L231.27 167.00 L231.45 167.36 L231.62 167.78 L231.80 167.33 L231.98 169.05 L232.15 167.33 L232.33 166.20 L232.51 168.22 L232.68 166.87 L232.86 166.97 L233.04 164.85 L233.21 168.06 L233.39 167.93 L233.57 167.94 L233.75 168.10 L233.92 168.69 L234.10 167.33 L234.28 168.13 L234.45 166.81 L234.63 167.14 L234.81 168.29 L234.98 167.78 L235.16 166.42 L235.34 167.80 L235.51 167.38 L235.69 166.89 L235.87 167.92 L236.05 167.27 L236.22 166.35 L236.40 166.74 L236.58 169.07 L236.75 166.46 L236.93 167.87" fill="none" stroke="#4ea2f5" stroke-width="1.8" stroke-linejoin="round"/>
<path d="M145.12 142.27 L145.29 141.81 L145.47 139.84 L145.65 140.14 L145.82 140.21 L146.00 140.59 L146.18 139.44 L146.35 139.03 L146.53 140.79 L146.71 140.90 L146.88 140.35 L147.06 139.60 L147.24 140.46 L147.41 140.26 L147.59 140.89 L147.77 139.27 L147.95 140.40 L148.12 140.22 L148.30 139.49 L148.48 140.59 L148.65 140.48 L148.83 140.16 L149.01 140.84 L149.18 139.42 L149.36 140.55 L149.54 140.97 L149.71 140.89 L149.89 141.56 L150.07 139.77 L150.25 139.56 L150.42 141.00 L150.60 141.21 L150.78 142.58 L150.95 141.41 L151.13 140.25 L151.31 141.64 L151.48 140.35 L151.66 139.87 L151.84 143.19 L152.01 141.40 L152.19 141.74 L152.37 141.66 L152.55 142.69 L152.72 141.51 L152.90 142.29 L153.08 140.53 L153.25 140.27 L153.43 142.56 L153.61 142.63 L153.78 141.89 L153.96 141.70 L154.14 141.68 L154.31 141.03 L154.49 142.84 L154.67 142.17 L154.84 142.08 L155.02 142.00 L155.20 142.57 L155.38 142.16 L155.55 142.39 L155.73 140.88 L155.91 142.25 L156.08 143.62 L156.26 141.48 L156.44 141.82 L156.61 142.67 L156.79 142.74 L156.97 142.50 L157.14 140.74 L157.32 142.46 L157.50 141.13 L157.68 141.45 L157.85 142.57 L158.03 141.92 L158.21 142.83 L158.38 144.72 L158.56 142.85 L158.74 142.83 L158.91 141.56 L159.09 141.79 L159.27 141.47 L159.44 141.92 L159.62 141.50 L159.80 141.87 L159.98 142.25 L160.15 141.64 L160.33 141.33 L160.51 141.40 L160.68 142.87 L160.86 142.58 L161.04 143.38 L161.21 143.41 L161.39 142.33 L161.57 143.16 L161.74 141.49 L161.92 144.49 L162.10 143.64 L162.28 142.54 L162.45 141.80 L162.63 143.05 L162.81 141.28 L162.98 142.17 L163.16 143.41 L163.34 142.90 L163.51 142.46 L163.69 143.64 L163.87 142.07 L164.04 143.15 L164.22 142.54 L164.40 142.28 L164.57 143.35 L164.75 142.21 L164.93 144.55 L165.11 142.58 L165.28 144.66 L165.46 142.21 L165.64 143.59 L165.81 142.17 L165.99 142.07 L166.17 143.30 L166.34 143.73 L166.52 142.19 L166.70 144.18 L166.87 142.61 L167.05 143.38 L167.23 143.60 L167.41 143.79 L167.58 141.89 L167.76 144.65 L167.94 143.82 L168.11 143.05 L168.29 142.59 L168.47 142.07 L168.64 142.36 L168.82 143.90 L169.00 143.21 L169.17 142.60 L169.35 143.10 L169.53 144.79 L169.71 143.30 L169.88 143.11 L170.06 144.68 L170.24 143.99 L170.41 143.67 L170.59 143.17 L170.77 142.43 L170.94 142.75 L171.12 143.32 L171.30 143.55 L171.47 144.03 L171.65 144.20 L171.83 143.96 L172.00 143.97 L172.18 143.01 L172.36 142.11 L172.54 143.43 L172.71 143.10 L172.89 143.36 L173.07 143.68 L173.24 142.93 L173.42 143.05 L173.60 143.88 L173.77 144.07 L173.95 143.47 L174.13 144.41 L174.30 143.85 L174.48 143.23 L174.66 144.09 L174.84 145.59 L175.01 143.56 L175.19 145.05 L175.37 145.24 L175.54 145.35 L175.72 143.51 L175.90 145.80 L176.07 144.30 L176.25 144.02 L176.43 144.06 L176.60 144.74 L176.78 144.32 L176.96 144.16 L177.14 145.35 L177.31 143.76 L177.49 143.52 L177.67 145.01 L177.84 144.96 L178.02 145.29 L178.20 143.58 L178.37 145.32 L178.55 144.86 L178.73 145.90 L178.90 143.51 L179.08 144.71 L179.26 144.33 L179.44 143.30 L179.61 144.02 L179.79 145.52 L179.97 144.26 L180.14 144.08 L180.32 145.37 L180.50 145.49 L180.67 145.51 L180.85 144.11 L181.03 144.72 L181.20 145.61 L181.38 144.28 L181.56 144.23 L181.73 145.52 L181.91 146.13 L182.09 143.98 L182.27 142.85 L182.44 143.79 L182.62 144.16 L182.80 144.89 L182.97 145.51 L183.15 144.93 L183.33 144.51 L183.50 145.21 L183.68 144.35 L183.86 145.10 L184.03 144.65 L184.21 147.33 L184.39 145.87 L184.57 144.57 L184.74 144.47 L184.92 144.94 L185.10 144.00 L185.27 144.75 L185.45 144.77 L185.63 146.10 L185.80 145.07 L185.98 144.81 L186.16 144.39 L186.33 144.55 L186.51 145.46 L186.69 145.37 L186.87 146.47 L187.04 145.09 L187.22 146.47 L187.40 145.85 L187.57 145.67 L187.75 144.09 L187.93 144.69 L188.10 146.34 L188.28 146.89 L188.46 145.96 L188.63 146.43 L188.81 145.52 L188.99 145.58 L189.16 145.37 L189.34 146.70 L189.52 146.22 L189.70 145.79 L189.87 145.74 L190.05 146.47 L190.23 146.31 L190.40 145.41 L190.58 147.47 L190.76 146.33 L190.93 146.16 L191.11 147.36 L191.29 147.02 L191.46 146.15 L191.64 146.68 L191.82 145.42 L192.00 145.78 L192.17 144.51 L192.35 147.32 L192.53 144.85 L192.70 146.94 L192.88 145.75 L193.06 145.65 L193.23 146.30 L193.41 146.70 L193.59 147.00 L193.76 147.95 L193.94 146.84 L194.12 147.28 L194.30 146.12 L194.47 147.19 L194.65 146.76 L194.83 146.29 L195.00 146.60 L195.18 146.65 L195.36 146.87 L195.53 147.06 L195.71 146.36 L195.89 146.19 L196.06 147.40 L196.24 145.47 L196.42 146.35 L196.60 148.11 L196.77 144.72 L196.95 146.35 L197.13 147.48 L197.30 145.62 L197.48 149.04 L197.66 144.91 L197.83 148.15 L198.01 148.27 L198.19 147.78 L198.36 146.88 L198.54 147.37 L198.72 146.38 L198.89 147.77 L199.07 146.24 L199.25 146.94 L199.43 147.97 L199.60 146.30 L199.78 146.92 L199.96 147.36 L200.13 146.18 L200.31 148.20 L200.49 147.56 L200.66 146.09 L200.84 147.29 L201.02 146.72 L201.19 146.83 L201.37 147.44 L201.55 146.83 L201.73 148.19 L201.90 146.87 L202.08 148.24 L202.26 147.43 L202.43 148.17 L202.61 147.07 L202.79 147.12 L202.96 146.62 L203.14 148.02 L203.32 148.33 L203.49 149.29 L203.67 148.64 L203.85 147.83 L204.03 147.48 L204.20 147.98 L204.38 147.66 L204.56 148.87 L204.73 148.47 L204.91 147.07 L205.09 147.20 L205.26 148.87 L205.44 148.04 L205.62 147.62 L205.79 148.77 L205.97 147.53 L206.15 147.64 L206.32 147.51 L206.50 146.33 L206.68 148.60 L206.86 146.96 L207.03 147.49 L207.21 147.37 L207.39 148.57 L207.56 147.95 L207.74 148.03 L207.92 146.70 L208.09 147.99 L208.27 146.89 L208.45 148.34 L208.62 148.40 L208.80 148.12 L208.98 149.78 L209.16 148.59 L209.33 148.66 L209.51 148.32 L209.69 148.07 L209.86 149.01 L210.04 149.14 L210.22 147.24 L210.39 149.14 L210.57 148.72 L210.75 149.10 L210.92 148.72 L211.10 147.37 L211.28 147.45 L211.46 149.87 L211.63 148.63 L211.81 147.31 L211.99 148.74 L212.16 148.20 L212.34 147.03 L212.52 146.69 L212.69 147.26 L212.87 148.78 L213.05 148.54 L213.22 148.40 L213.40 148.85 L213.58 149.12 L213.76 146.98 L213.93 148.44 L214.11 148.04 L214.29 147.73 L214.46 148.30 L214.64 148.66 L214.82 148.57 L214.99 147.63 L215.17 148.43 L215.35 150.45 L215.52 148.01 L215.70 147.53 L215.88 149.12 L216.05 149.39 L216.23 149.31 L216.41 148.06 L216.59 149.78 L216.76 148.37 L216.94 148.11 L217.12 148.55 L217.29 148.97 L217.47 149.65 L217.65 149.60 L217.82 149.10 L218.00 149.88 L218.18 149.22 L218.35 149.89 L218.53 148.07 L218.71 147.96 L218.89 149.86 L219.06 148.14 L219.24 149.04 L219.42 149.22 L219.59 148.93 L219.77 148.97 L219.95 150.47 L220.12 147.35 L220.30 150.11 L220.48 151.25 L220.65 149.46 L220.83 149.44 L221.01 150.06 L221.19 150.96 L221.36 148.57 L221.54 149.61 L221.72 149.41 L221.89 150.03 L222.07 149.73 L222.25 150.15 L222.42 149.30 L222.60 149.70 L222.78 149.15 L222.95 149.17 L223.13 149.61 L223.31 149.63 L223.49 148.83 L223.66 151.04 L223.84 149.70 L224.02 148.72 L224.19 150.73 L224.37 149.27 L224.55 150.29 L224.72 149.89 L224.90 150.13 L225.08 150.09 L225.25 149.51 L225.43 150.02 L225.61 151.64 L225.78 148.24 L225.96 150.11 L226.14 150.42 L226.32 149.25 L226.49 149.02 L226.67 151.86 L226.85 149.86 L227.02 151.84 L227.20 150.63 L227.38 150.28 L227.55 150.62 L227.73 150.77 L227.91 151.23 L228.08 150.65 L228.26 150.44 L228.44 150.49 L228.62 151.45 L228.79 151.04 L228.97 149.61 L229.15 149.92 L229.32 150.71 L229.50 149.97 L229.68 150.19 L229.85 149.75 L230.03 150.33 L230.21 150.89 L230.38 151.37 L230.56 150.61 L230.74 152.28 L230.92 150.58 L231.09 153.22 L231.27 151.48 L231.45 151.10 L231.62 150.33 L231.80 148.49 L231.98 150.64 L232.15 150.93 L232.33 152.35 L232.51 149.73 L232.68 152.38 L232.86 150.67 L233.04 151.48 L233.21 148.89 L233.39 151.05 L233.57 150.69 L233.75 151.53 L233.92 151.08 L234.10 150.11 L234.28 151.80 L234.45 151.62 L234.63 151.57 L234.81 151.92 L234.98 152.01 L235.16 151.14 L235.34 150.09 L235.51 150.09 L235.69 152.30 L235.87 151.81 L236.05 151.34 L236.22 150.94 L236.40 151.33 L236.58 151.35 L236.75 151.08 L236.93 150.81" fill="none" stroke="#0404c8" stroke-width="1.8" stroke-linejoin="round"/>
<path d="M145.12 159.68 L145.29 157.13 L145.47 155.51 L145.65 154.04 L145.82 153.64 L146.00 153.96 L146.18 153.20 L146.35 151.66 L146.53 151.15 L146.71 150.17 L146.88 148.86 L147.06 150.14 L147.24 148.79 L147.41 149.88 L147.59 146.72 L147.77 146.67 L147.95 146.96 L148.12 145.55 L148.30 144.15 L148.48 144.02 L148.65 144.41 L148.83 144.16 L149.01 143.38 L149.18 143.85 L149.36 143.44 L149.54 142.51 L149.71 141.90 L149.89 141.31 L150.07 141.59 L150.25 141.54 L150.42 140.52 L150.60 140.50 L150.78 139.56 L150.95 138.38 L151.13 138.40 L151.31 139.51 L151.48 138.97 L151.66 139.60 L151.84 138.09 L152.01 138.46 L152.19 138.56 L152.37 138.03 L152.55 136.49 L152.72 136.58 L152.90 136.58 L153.08 135.44 L153.25 136.37 L153.43 136.57 L153.61 135.14 L153.78 136.87 L153.96 134.83 L154.14 134.68 L154.31 134.43 L154.49 133.84 L154.67 134.52 L154.84 133.99 L155.02 135.10 L155.20 134.05 L155.38 133.79 L155.55 132.98 L155.73 131.83 L155.91 132.69 L156.08 131.89 L156.26 133.13 L156.44 132.16 L156.61 133.32 L156.79 132.39 L156.97 132.29 L157.14 131.62 L157.32 131.42 L157.50 131.59 L157.68 131.63 L157.85 130.15 L158.03 130.93 L158.21 132.46 L158.38 130.12 L158.56 129.81 L158.74 129.29 L158.91 128.52 L159.09 130.46 L159.27 129.39 L159.44 129.42 L159.62 130.49 L159.80 130.85 L159.98 127.97 L160.15 129.37 L160.33 128.86 L160.51 128.52 L160.68 128.43 L160.86 127.87 L161.04 129.01 L161.21 128.07 L161.39 127.70 L161.57 128.27 L161.74 127.84 L161.92 127.34 L162.10 127.08 L162.28 128.08 L162.45 126.93 L162.63 126.30 L162.81 125.54 L162.98 125.81 L163.16 125.10 L163.34 125.88 L163.51 125.86 L163.69 123.87 L163.87 125.38 L164.04 125.75 L164.22 125.22 L164.40 124.18 L164.57 125.82 L164.75 124.12 L164.93 123.55 L165.11 123.53 L165.28 124.25 L165.46 124.92 L165.64 124.93 L165.81 124.03 L165.99 122.78 L166.17 123.07 L166.34 122.75 L166.52 123.20 L166.70 121.79 L166.87 123.17 L167.05 123.47 L167.23 122.71 L167.41 123.07 L167.58 121.82 L167.76 121.28 L167.94 121.81 L168.11 123.12 L168.29 122.90 L168.47 121.59 L168.64 122.79 L168.82 121.45 L169.00 122.80 L169.17 121.86 L169.35 120.99 L169.53 121.87 L169.71 120.50 L169.88 120.25 L170.06 119.72 L170.24 120.97 L170.41 120.61 L170.59 120.47 L170.77 120.09 L170.94 121.46 L171.12 119.85 L171.30 119.50 L171.47 120.97 L171.65 121.00 L171.83 120.02 L172.00 118.25 L172.18 119.05 L172.36 119.91 L172.54 119.33 L172.71 120.45 L172.89 118.00 L173.07 119.53 L173.24 118.38 L173.42 119.84 L173.60 118.61 L173.77 119.40 L173.95 117.95 L174.13 117.24 L174.30 117.37 L174.48 117.67 L174.66 117.24 L174.84 118.92 L175.01 118.93 L175.19 117.98 L175.37 116.83 L175.54 117.46 L175.72 116.91 L175.90 118.53 L176.07 117.52 L176.25 117.56 L176.43 116.75 L176.60 115.37 L176.78 116.26 L176.96 115.89 L177.14 116.99 L177.31 116.68 L177.49 115.86 L177.67 116.10 L177.84 117.57 L178.02 115.46 L178.20 115.40 L178.37 115.86 L178.55 115.40 L178.73 115.52 L178.90 116.20 L179.08 117.07 L179.26 114.18 L179.44 115.50 L179.61 115.46 L179.79 115.27 L179.97 115.10 L180.14 114.89 L180.32 115.88 L180.50 114.62 L180.67 114.81 L180.85 114.83 L181.03 114.83 L181.20 114.52 L181.38 115.38 L181.56 114.49 L181.73 114.55 L181.91 114.29 L182.09 113.45 L182.27 113.50 L182.44 113.25 L182.62 114.16 L182.80 113.36 L182.97 113.00 L183.15 113.96 L183.33 114.11 L183.50 112.21 L183.68 114.89 L183.86 113.49 L184.03 113.30 L184.21 114.16 L184.39 113.29 L184.57 112.67 L184.74 114.84 L184.92 112.15 L185.10 112.86 L185.27 113.54 L185.45 111.93 L185.63 112.63 L185.80 112.95 L185.98 114.49 L186.16 111.78 L186.33 112.39 L186.51 112.88 L186.69 112.35 L186.87 111.25 L187.04 112.47 L187.22 112.16 L187.40 112.36 L187.57 112.84 L187.75 112.68 L187.93 112.13 L188.10 111.98 L188.28 110.79 L188.46 111.49 L188.63 111.71 L188.81 111.14 L188.99 111.48 L189.16 110.67 L189.34 112.49 L189.52 112.92 L189.70 110.83 L189.87 111.39 L190.05 110.82 L190.23 111.96 L190.40 111.23 L190.58 110.88 L190.76 110.58 L190.93 110.80 L191.11 109.83 L191.29 111.11 L191.46 109.94 L191.64 110.88 L191.82 110.49 L192.00 111.20 L192.17 110.25 L192.35 111.03 L192.53 109.41 L192.70 110.58 L192.88 109.85 L193.06 110.13 L193.23 109.97 L193.41 110.61 L193.59 108.18 L193.76 110.00 L193.94 108.49 L194.12 110.60 L194.30 108.00 L194.47 108.71 L194.65 108.12 L194.83 110.72 L195.00 108.32 L195.18 109.39 L195.36 108.81 L195.53 107.75 L195.71 108.86 L195.89 109.61 L196.06 108.88 L196.24 109.73 L196.42 108.63 L196.60 108.87 L196.77 108.51 L196.95 109.04 L197.13 110.23 L197.30 108.95 L197.48 108.77 L197.66 108.06 L197.83 107.90 L198.01 109.63 L198.19 107.52 L198.36 107.63 L198.54 108.23 L198.72 107.92 L198.89 109.78 L199.07 106.27 L199.25 108.40 L199.43 108.64 L199.60 107.12 L199.78 107.45 L199.96 108.27 L200.13 109.18 L200.31 107.09 L200.49 106.52 L200.66 108.51 L200.84 108.91 L201.02 107.37 L201.19 105.83 L201.37 108.71 L201.55 107.35 L201.73 108.36 L201.90 107.38 L202.08 107.07 L202.26 106.97 L202.43 108.46 L202.61 108.39 L202.79 105.49 L202.96 106.40 L203.14 108.53 L203.32 106.77 L203.49 105.94 L203.67 106.99 L203.85 106.85 L204.03 106.82 L204.20 106.47 L204.38 106.57 L204.56 106.41 L204.73 107.00 L204.91 106.04 L205.09 106.42 L205.26 106.49 L205.44 107.61 L205.62 106.83 L205.79 106.40 L205.97 106.88 L206.15 106.74 L206.32 107.24 L206.50 106.74 L206.68 107.73 L206.86 107.33 L207.03 106.18 L207.21 105.85 L207.39 106.85 L207.56 106.52 L207.74 105.99 L207.92 104.85 L208.09 104.52 L208.27 106.23 L208.45 106.53 L208.62 106.52 L208.80 104.81 L208.98 106.64 L209.16 105.34 L209.33 106.05 L209.51 106.03 L209.69 105.02 L209.86 105.16 L210.04 103.94 L210.22 104.83 L210.39 104.08 L210.57 105.84 L210.75 105.51 L210.92 106.15 L211.10 105.67 L211.28 104.85 L211.46 105.60 L211.63 104.98 L211.81 105.74 L211.99 105.47 L212.16 104.40 L212.34 105.16 L212.52 105.17 L212.69 104.84 L212.87 105.77 L213.05 106.40 L213.22 104.70 L213.40 104.68 L213.58 103.13 L213.76 104.80 L213.93 104.52 L214.11 103.11 L214.29 105.04 L214.46 105.25 L214.64 104.16 L214.82 104.42 L214.99 103.91 L215.17 105.27 L215.35 103.41 L215.52 104.34 L215.70 106.13 L215.88 104.58 L216.05 104.88 L216.23 104.36 L216.41 103.51 L216.59 104.39 L216.76 104.72 L216.94 103.54 L217.12 104.61 L217.29 105.30 L217.47 105.13 L217.65 102.98 L217.82 103.44 L218.00 102.90 L218.18 105.02 L218.35 104.63 L218.53 104.68 L218.71 103.38 L218.89 103.13 L219.06 104.09 L219.24 104.09 L219.42 103.30 L219.59 104.07 L219.77 104.44 L219.95 104.08 L220.12 103.04 L220.30 102.16 L220.48 103.62 L220.65 103.93 L220.83 103.56 L221.01 103.40 L221.19 103.17 L221.36 104.27 L221.54 103.63 L221.72 103.75 L221.89 102.85 L222.07 103.10 L222.25 103.71 L222.42 102.75 L222.60 102.52 L222.78 103.24 L222.95 104.44 L223.13 103.61 L223.31 104.60 L223.49 103.30 L223.66 103.14 L223.84 102.25 L224.02 102.88 L224.19 104.46 L224.37 103.56 L224.55 103.86 L224.72 103.81 L224.90 103.22 L225.08 103.04 L225.25 103.28 L225.43 103.70 L225.61 103.50 L225.78 103.51 L225.96 103.22 L226.14 102.46 L226.32 102.84 L226.49 102.28 L226.67 103.81 L226.85 101.30 L227.02 102.79 L227.20 104.85 L227.38 102.65 L227.55 101.99 L227.73 102.87 L227.91 103.89 L228.08 102.71 L228.26 103.31 L228.44 102.88 L228.62 102.48 L228.79 105.28 L228.97 102.80 L229.15 102.29 L229.32 102.31 L229.50 102.99 L229.68 102.99 L229.85 103.26 L230.03 102.74 L230.21 101.46 L230.38 103.01 L230.56 102.32 L230.74 102.32 L230.92 101.34 L231.09 102.05 L231.27 101.91 L231.45 102.44 L231.62 101.29 L231.80 102.48 L231.98 102.52 L232.15 101.51 L232.33 101.88 L232.51 101.68 L232.68 103.07 L232.86 100.31 L233.04 102.04 L233.21 100.97 L233.39 101.93 L233.57 102.94 L233.75 101.74 L233.92 102.34 L234.10 101.53 L234.28 103.74 L234.45 102.91 L234.63 103.06 L234.81 101.08 L234.98 101.24 L235.16 102.97 L235.34 101.94 L235.51 101.87 L235.69 102.33 L235.87 101.04 L236.05 102.65 L236.22 102.03 L236.40 102.38 L236.58 101.44 L236.75 102.37 L236.93 101.38" fill="none" stroke="#ff7a06" stroke-width="1.8" stroke-linejoin="round"/>
<path d="M145.12 164.15 L145.29 162.13 L145.47 159.87 L145.65 157.56 L145.82 155.73 L146.00 151.22 L146.18 152.28 L146.35 149.69 L146.53 148.34 L146.71 146.47 L146.88 144.07 L147.06 143.29 L147.24 142.85 L147.41 142.11 L147.59 139.17 L147.77 137.70 L147.95 138.38 L148.12 135.35 L148.30 136.59 L148.48 133.90 L148.65 132.11 L148.83 132.60 L149.01 132.20 L149.18 128.76 L149.36 130.25 L149.54 127.91 L149.71 128.48 L149.89 126.17 L150.07 124.42 L150.25 125.33 L150.42 124.93 L150.60 125.15 L150.78 124.16 L150.95 122.67 L151.13 121.28 L151.31 120.42 L151.48 119.99 L151.66 118.97 L151.84 118.85 L152.01 116.48 L152.19 118.11 L152.37 117.42 L152.55 118.99 L152.72 117.05 L152.90 115.58 L153.08 115.94 L153.25 114.06 L153.43 114.11 L153.61 112.67 L153.78 114.89 L153.96 113.81 L154.14 111.99 L154.31 112.49 L154.49 112.92 L154.67 112.19 L154.84 111.73 L155.02 110.39 L155.20 110.22 L155.38 110.47 L155.55 110.80 L155.73 109.08 L155.91 108.53 L156.08 110.03 L156.26 108.07 L156.44 109.38 L156.61 108.42 L156.79 108.65 L156.97 109.06 L157.14 107.94 L157.32 107.75 L157.50 106.13 L157.68 106.05 L157.85 106.87 L158.03 107.33 L158.21 106.97 L158.38 107.47 L158.56 105.63 L158.74 105.32 L158.91 105.73 L159.09 104.72 L159.27 104.43 L159.44 103.43 L159.62 104.85 L159.80 102.99 L159.98 104.05 L160.15 102.30 L160.33 104.11 L160.51 102.22 L160.68 103.52 L160.86 101.38 L161.04 102.11 L161.21 103.22 L161.39 101.45 L161.57 101.97 L161.74 101.36 L161.92 99.72 L162.10 101.64 L162.28 101.57 L162.45 100.16 L162.63 101.34 L162.81 100.08 L162.98 99.75 L163.16 100.40 L163.34 99.69 L163.51 101.92 L163.69 98.68 L163.87 100.37 L164.04 100.42 L164.22 97.89 L164.40 97.94 L164.57 99.63 L164.75 98.65 L164.93 99.20 L165.11 99.67 L165.28 98.32 L165.46 97.63 L165.64 96.16 L165.81 98.37 L165.99 97.33 L166.17 98.19 L166.34 98.00 L166.52 96.58 L166.70 98.94 L166.87 98.30 L167.05 97.98 L167.23 96.23 L167.41 96.73 L167.58 96.50 L167.76 96.49 L167.94 95.80 L168.11 96.93 L168.29 96.65 L168.47 96.65 L168.64 95.83 L168.82 97.16 L169.00 96.16 L169.17 93.71 L169.35 95.28 L169.53 95.64 L169.71 96.35 L169.88 95.23 L170.06 95.17 L170.24 94.73 L170.41 95.69 L170.59 94.70 L170.77 94.47 L170.94 94.26 L171.12 95.20 L171.30 94.23 L171.47 93.22 L171.65 94.96 L171.83 93.81 L172.00 94.56 L172.18 94.48 L172.36 95.05 L172.54 94.83 L172.71 93.44 L172.89 93.68 L173.07 92.69 L173.24 94.98 L173.42 93.90 L173.60 94.58 L173.77 93.12 L173.95 91.65 L174.13 94.43 L174.30 93.20 L174.48 93.14 L174.66 93.00 L174.84 93.39 L175.01 93.22 L175.19 91.44 L175.37 93.50 L175.54 92.13 L175.72 92.10 L175.90 93.78 L176.07 93.06 L176.25 91.98 L176.43 90.69 L176.60 92.22 L176.78 92.45 L176.96 91.88 L177.14 90.88 L177.31 91.17 L177.49 90.73 L177.67 91.83 L177.84 92.25 L178.02 92.34 L178.20 90.87 L178.37 91.57 L178.55 91.76 L178.73 90.84 L178.90 91.07 L179.08 92.82 L179.26 91.22 L179.44 91.69 L179.61 90.58 L179.79 90.89 L179.97 89.43 L180.14 90.71 L180.32 91.63 L180.50 92.29 L180.67 91.51 L180.85 91.04 L181.03 90.47 L181.20 89.89 L181.38 90.18 L181.56 90.75 L181.73 89.57 L181.91 90.89 L182.09 89.30 L182.27 88.60 L182.44 89.16 L182.62 88.58 L182.80 88.76 L182.97 90.71 L183.15 89.59 L183.33 89.88 L183.50 90.57 L183.68 90.60 L183.86 89.14 L184.03 90.56 L184.21 89.75 L184.39 89.39 L184.57 89.69 L184.74 88.15 L184.92 88.61 L185.10 89.11 L185.27 89.63 L185.45 88.80 L185.63 88.95 L185.80 89.78 L185.98 90.09 L186.16 89.52 L186.33 89.88 L186.51 88.50 L186.69 88.53 L186.87 88.98 L187.04 88.44 L187.22 88.24 L187.40 89.92 L187.57 88.39 L187.75 87.74 L187.93 88.86 L188.10 89.90 L188.28 88.45 L188.46 89.33 L188.63 87.95 L188.81 87.87 L188.99 87.67 L189.16 88.07 L189.34 89.61 L189.52 87.18 L189.70 89.38 L189.87 87.22 L190.05 87.80 L190.23 88.62 L190.40 88.42 L190.58 88.10 L190.76 86.52 L190.93 88.09 L191.11 86.95 L191.29 89.79 L191.46 87.53 L191.64 87.81 L191.82 86.71 L192.00 87.21 L192.17 86.52 L192.35 88.31 L192.53 87.28 L192.70 87.91 L192.88 86.88 L193.06 86.99 L193.23 88.39 L193.41 86.55 L193.59 85.85 L193.76 87.59 L193.94 86.32 L194.12 86.85 L194.30 87.90 L194.47 86.48 L194.65 87.81 L194.83 86.53 L195.00 88.24 L195.18 88.08 L195.36 86.61 L195.53 86.79 L195.71 86.27 L195.89 87.06 L196.06 87.79 L196.24 85.69 L196.42 87.55 L196.60 85.73 L196.77 86.08 L196.95 85.31 L197.13 88.39 L197.30 86.73 L197.48 86.85 L197.66 86.09 L197.83 87.46 L198.01 84.90 L198.19 86.58 L198.36 88.29 L198.54 86.20 L198.72 86.49 L198.89 86.99 L199.07 85.78 L199.25 86.42 L199.43 87.15 L199.60 86.51 L199.78 86.63 L199.96 86.03 L200.13 86.54 L200.31 86.31 L200.49 87.41 L200.66 86.80 L200.84 86.00 L201.02 84.22 L201.19 86.73 L201.37 86.74 L201.55 85.38 L201.73 84.49 L201.90 85.15 L202.08 86.79 L202.26 85.17 L202.43 85.64 L202.61 86.16 L202.79 86.94 L202.96 85.93 L203.14 85.85 L203.32 85.47 L203.49 87.19 L203.67 86.72 L203.85 85.77 L204.03 84.71 L204.20 85.18 L204.38 86.25 L204.56 85.20 L204.73 86.47 L204.91 86.02 L205.09 85.95 L205.26 86.22 L205.44 86.08 L205.62 84.98 L205.79 85.39 L205.97 87.50 L206.15 84.65 L206.32 85.22 L206.50 86.43 L206.68 85.43 L206.86 84.90 L207.03 84.47 L207.21 85.94 L207.39 86.31 L207.56 86.60 L207.74 85.51 L207.92 86.29 L208.09 84.61 L208.27 85.55 L208.45 84.86 L208.62 85.53 L208.80 85.97 L208.98 86.21 L209.16 84.55 L209.33 86.34 L209.51 84.93 L209.69 84.48 L209.86 85.15 L210.04 84.10 L210.22 85.26 L210.39 85.48 L210.57 85.07 L210.75 85.64 L210.92 84.95 L211.10 85.19 L211.28 84.02 L211.46 85.20 L211.63 84.47 L211.81 84.78 L211.99 85.05 L212.16 85.26 L212.34 83.78 L212.52 83.84 L212.69 84.83 L212.87 85.44 L213.05 85.34 L213.22 85.75 L213.40 86.07 L213.58 85.41 L213.76 84.99 L213.93 84.16 L214.11 84.22 L214.29 84.59 L214.46 85.17 L214.64 85.12 L214.82 84.94 L214.99 84.80 L215.17 85.42 L215.35 85.07 L215.52 85.13 L215.70 85.13 L215.88 84.43 L216.05 84.03 L216.23 85.24 L216.41 85.17 L216.59 84.65 L216.76 84.48 L216.94 86.63 L217.12 84.19 L217.29 84.61 L217.47 84.99 L217.65 83.84 L217.82 84.85 L218.00 86.19 L218.18 85.49 L218.35 85.24 L218.53 85.19 L218.71 84.80 L218.89 85.47 L219.06 84.57 L219.24 84.35 L219.42 84.76 L219.59 85.39 L219.77 84.92 L219.95 85.19 L220.12 83.02 L220.30 85.59 L220.48 86.50 L220.65 85.68 L220.83 84.35 L221.01 83.92 L221.19 84.81 L221.36 83.79 L221.54 85.15 L221.72 84.15 L221.89 85.33 L222.07 85.64 L222.25 82.92 L222.42 84.77 L222.60 83.97 L222.78 83.39 L222.95 84.02 L223.13 84.33 L223.31 85.33 L223.49 83.27 L223.66 85.32 L223.84 86.09 L224.02 84.95 L224.19 84.90 L224.37 84.44 L224.55 83.51 L224.72 84.87 L224.90 84.74 L225.08 85.01 L225.25 86.48 L225.43 85.00 L225.61 84.75 L225.78 85.65 L225.96 83.32 L226.14 83.48 L226.32 84.08 L226.49 83.85 L226.67 84.93 L226.85 84.11 L227.02 85.75 L227.20 85.57 L227.38 84.96 L227.55 84.03 L227.73 84.83 L227.91 84.98 L228.08 83.47 L228.26 84.60 L228.44 84.88 L228.62 84.48 L228.79 85.56 L228.97 85.27 L229.15 83.63 L229.32 84.38 L229.50 83.61 L229.68 84.74 L229.85 83.57 L230.03 85.00 L230.21 84.57 L230.38 85.03 L230.56 84.13 L230.74 83.08 L230.92 85.65 L231.09 84.09 L231.27 85.33 L231.45 84.57 L231.62 84.76 L231.80 85.68 L231.98 84.48 L232.15 85.32 L232.33 83.01 L232.51 84.89 L232.68 84.00 L232.86 84.08 L233.04 84.19 L233.21 84.45 L233.39 85.50 L233.57 82.68 L233.75 84.20 L233.92 83.59 L234.10 85.09 L234.28 83.81 L234.45 84.51 L234.63 83.82 L234.81 84.67 L234.98 84.94 L235.16 83.81 L235.34 84.16 L235.51 82.98 L235.69 84.36 L235.87 84.80 L236.05 83.66 L236.22 85.00 L236.40 82.44 L236.58 82.62 L236.75 82.98 L236.93 83.70" fill="none" stroke="#ff2c38" stroke-width="1.8" stroke-linejoin="round"/>
<line x1="145.25" y1="58.4" x2="145.25" y2="188.5" stroke="#111" stroke-width="1.6" stroke-dasharray="3.2 2.9"/>
<line x1="327.80" y1="65.76" x2="327.80" y2="189.25" stroke="#1c1c1c" stroke-width="1.3"/>
<line x1="322.80" y1="188.60" x2="327.80" y2="188.60" stroke="#1c1c1c" stroke-width="1.3"/>
<text id="t_d_y0" x="318.00" y="191.90" font-size="9.6" font-weight="bold" fill="#1a1a1a" text-anchor="middle" textLength="5.37" lengthAdjust="spacingAndGlyphs" stroke="#1a1a1a" stroke-width="0.28">0</text>
<line x1="322.80" y1="147.87" x2="327.80" y2="147.87" stroke="#1c1c1c" stroke-width="1.3"/>
<text id="t_d_ys1" x="319.40" y="147.67" font-size="5.3" font-weight="bold" fill="#1a1a1a" text-anchor="middle" textLength="3.42" lengthAdjust="spacingAndGlyphs" stroke="#1a1a1a" stroke-width="0.28">4</text>
<text id="t_d_ym1" x="306.65" y="150.47" font-size="9.0" font-weight="bold" fill="#1a1a1a" text-anchor="middle" textLength="20.02" lengthAdjust="spacingAndGlyphs" stroke="#1a1a1a" stroke-width="0.28">5×10</text>
<line x1="322.80" y1="107.14" x2="327.80" y2="107.14" stroke="#1c1c1c" stroke-width="1.3"/>
<text id="t_d_ys2" x="319.40" y="106.94" font-size="5.3" font-weight="bold" fill="#1a1a1a" text-anchor="middle" textLength="3.42" lengthAdjust="spacingAndGlyphs" stroke="#1a1a1a" stroke-width="0.28">5</text>
<text id="t_d_ym2" x="306.65" y="109.74" font-size="9.0" font-weight="bold" fill="#1a1a1a" text-anchor="middle" textLength="20.02" lengthAdjust="spacingAndGlyphs" stroke="#1a1a1a" stroke-width="0.28">1×10</text>
<line x1="322.80" y1="66.41" x2="327.80" y2="66.41" stroke="#1c1c1c" stroke-width="1.3"/>
<text id="t_d_ys3" x="319.40" y="66.21" font-size="5.3" font-weight="bold" fill="#1a1a1a" text-anchor="middle" textLength="3.42" lengthAdjust="spacingAndGlyphs" stroke="#1a1a1a" stroke-width="0.28">5</text>
<text id="t_d_ym3" x="302.80" y="69.01" font-size="9.0" font-weight="bold" fill="#1a1a1a" text-anchor="middle" textLength="27.72" lengthAdjust="spacingAndGlyphs" stroke="#1a1a1a" stroke-width="0.28">1.5×10</text>
<line x1="327.15" y1="188.60" x2="511.85" y2="188.60" stroke="#1c1c1c" stroke-width="1.3"/>
<line x1="327.80" y1="188.60" x2="327.80" y2="193.80" stroke="#1c1c1c" stroke-width="1.3"/>
<text x="330.70" y="203.10" font-size="9.5" font-weight="bold" text-anchor="end" fill="#1a1a1a" stroke="#1a1a1a" stroke-width="0.25" transform="rotate(-45 330.70 203.10)">0.00001</text>
<line x1="354.00" y1="188.60" x2="354.00" y2="193.80" stroke="#1c1c1c" stroke-width="1.3"/>
<text x="356.90" y="203.10" font-size="9.5" font-weight="bold" text-anchor="end" fill="#1a1a1a" stroke="#1a1a1a" stroke-width="0.25" transform="rotate(-45 356.90 203.10)">0.0001</text>
<line x1="380.20" y1="188.60" x2="380.20" y2="193.80" stroke="#1c1c1c" stroke-width="1.3"/>
<text x="383.10" y="203.10" font-size="9.5" font-weight="bold" text-anchor="end" fill="#1a1a1a" stroke="#1a1a1a" stroke-width="0.25" transform="rotate(-45 383.10 203.10)">0.001</text>
<line x1="406.40" y1="188.60" x2="406.40" y2="193.80" stroke="#1c1c1c" stroke-width="1.3"/>
<text x="409.30" y="203.10" font-size="9.5" font-weight="bold" text-anchor="end" fill="#1a1a1a" stroke="#1a1a1a" stroke-width="0.25" transform="rotate(-45 409.30 203.10)">0.01</text>
<line x1="432.60" y1="188.60" x2="432.60" y2="193.80" stroke="#1c1c1c" stroke-width="1.3"/>
<text x="435.50" y="203.10" font-size="9.5" font-weight="bold" text-anchor="end" fill="#1a1a1a" stroke="#1a1a1a" stroke-width="0.25" transform="rotate(-45 435.50 203.10)">0.1</text>
<line x1="458.80" y1="188.60" x2="458.80" y2="193.80" stroke="#1c1c1c" stroke-width="1.3"/>
<text x="461.70" y="203.10" font-size="9.5" font-weight="bold" text-anchor="end" fill="#1a1a1a" stroke="#1a1a1a" stroke-width="0.25" transform="rotate(-45 461.70 203.10)">1</text>
<line x1="485.00" y1="188.60" x2="485.00" y2="193.80" stroke="#1c1c1c" stroke-width="1.3"/>
<text x="487.90" y="203.10" font-size="9.5" font-weight="bold" text-anchor="end" fill="#1a1a1a" stroke="#1a1a1a" stroke-width="0.25" transform="rotate(-45 487.90 203.10)">10</text>
<line x1="511.20" y1="188.60" x2="511.20" y2="193.80" stroke="#1c1c1c" stroke-width="1.3"/>
<text x="514.10" y="203.10" font-size="9.5" font-weight="bold" text-anchor="end" fill="#1a1a1a" stroke="#1a1a1a" stroke-width="0.25" transform="rotate(-45 514.10 203.10)">100</text>
<line x1="333.00" y1="69.40" x2="346.00" y2="69.40" stroke="#f01818" stroke-width="1.0"/>
<rect x="336.90" y="66.80" width="5.2" height="5.2" fill="#f01818"/>
<line x1="333.00" y1="85.45" x2="346.00" y2="85.45" stroke="#f57a20" stroke-width="1.0"/>
<polygon points="336.30,88.33 342.70,88.33 339.50,82.57" fill="#f57a20"/>
<line x1="333.00" y1="101.50" x2="346.00" y2="101.50" stroke="#1010c8" stroke-width="1.0"/>
<circle cx="339.50" cy="101.50" r="2.7" fill="#1010c8"/>
<line x1="333.00" y1="117.55" x2="346.00" y2="117.55" stroke="#5aacf2" stroke-width="1.0"/>
<polygon points="336.30,114.67 342.70,114.67 339.50,120.43" fill="#5aacf2"/>
<circle cx="339.50" cy="133.60" r="2.5" fill="none" stroke="#111" stroke-width="1.25"/>
<path d="M358.36 176.88 L359.25 176.87 L360.14 176.87 L361.04 176.86 L361.93 176.85 L362.83 176.85 L363.72 176.84 L364.62 176.83 L365.51 176.82 L366.40 176.81 L367.30 176.80 L368.19 176.79 L369.09 176.78 L369.98 176.77 L370.87 176.75 L371.77 176.74 L372.66 176.72 L373.56 176.71 L374.45 176.69 L375.35 176.67 L376.24 176.64 L377.13 176.62 L378.03 176.60 L378.92 176.57 L379.82 176.54 L380.71 176.51 L381.61 176.47 L382.50 176.43 L383.39 176.39 L384.29 176.35 L385.18 176.30 L386.08 176.25 L386.97 176.19 L387.87 176.13 L388.76 176.07 L389.65 176.00 L390.55 175.92 L391.44 175.84 L392.34 175.75 L393.23 175.66 L394.12 175.56 L395.02 175.45 L395.91 175.33 L396.81 175.20 L397.70 175.06 L398.60 174.92 L399.49 174.76 L400.38 174.58 L401.28 174.40 L402.17 174.20 L403.07 173.99 L403.96 173.76 L404.86 173.51 L405.75 173.25 L406.64 172.96 L407.54 172.66 L408.43 172.33 L409.33 171.98 L410.22 171.61 L411.12 171.20 L412.01 170.78 L412.90 170.32 L413.80 169.83 L414.69 169.31 L415.59 168.76 L416.48 168.17 L417.37 167.54 L418.27 166.88 L419.16 166.17 L420.06 165.43 L420.95 164.64 L421.85 163.81 L422.74 162.93 L423.63 162.01 L424.53 161.05 L425.42 160.04 L426.32 158.98 L427.21 157.88 L428.11 156.73 L429.00 155.54 L429.89 154.30 L430.79 153.02 L431.68 151.70 L432.58 150.35 L433.47 148.96 L434.37 147.54 L435.26 146.09 L436.15 144.62 L437.05 143.12 L437.94 141.61 L438.84 140.09 L439.73 138.55 L440.62 137.02 L441.52 135.49 L442.41 133.96 L443.31 132.44 L444.20 130.94 L445.10 129.46 L445.99 128.01 L446.88 126.58 L447.78 125.18 L448.67 123.81 L449.57 122.48 L450.46 121.19 L451.36 119.94 L452.25 118.74 L453.14 117.57 L454.04 116.46 L454.93 115.38 L455.83 114.36 L456.72 113.38 L457.62 112.44 L458.51 111.56 L459.40 110.71 L460.30 109.91 L461.19 109.15 L462.09 108.44 L462.98 107.76 L463.87 107.12 L464.77 106.52 L465.66 105.96 L466.56 105.43 L467.45 104.93 L468.35 104.46 L469.24 104.02 L470.13 103.62 L471.03 103.23 L471.92 102.88 L472.82 102.54 L473.71 102.23 L474.61 101.94 L475.50 101.67 L476.39 101.42 L477.29 101.18 L478.18 100.96 L479.08 100.76 L479.97 100.57 L480.87 100.40 L481.76 100.23 L482.65 100.08 L483.55 99.94 L484.44 99.81 L485.34 99.69 L486.23 99.58 L487.12 99.47 L488.02 99.37 L488.91 99.28 L489.81 99.20 L490.70 99.12 L491.60 99.05 L492.49 98.99 L493.38 98.93 L494.28 98.87 L495.17 98.82 L496.07 98.77 L496.96 98.72 L497.86 98.68 L498.75 98.64 L499.64 98.61 L500.54 98.57" fill="none" stroke="#f04848" stroke-width="1.3"/>
<path d="M358.36 187.18 L359.25 187.18 L360.14 187.18 L361.04 187.18 L361.93 187.18 L362.83 187.17 L363.72 187.17 L364.62 187.17 L365.51 187.17 L366.40 187.17 L367.30 187.17 L368.19 187.17 L369.09 187.17 L369.98 187.16 L370.87 187.16 L371.77 187.16 L372.66 187.16 L373.56 187.15 L374.45 187.15 L375.35 187.15 L376.24 187.15 L377.13 187.14 L378.03 187.14 L378.92 187.14 L379.82 187.13 L380.71 187.13 L381.61 187.12 L382.50 187.12 L383.39 187.11 L384.29 187.11 L385.18 187.10 L386.08 187.10 L386.97 187.09 L387.87 187.08 L388.76 187.07 L389.65 187.06 L390.55 187.06 L391.44 187.05 L392.34 187.03 L393.23 187.02 L394.12 187.01 L395.02 187.00 L395.91 186.98 L396.81 186.97 L397.70 186.95 L398.60 186.94 L399.49 186.92 L400.38 186.90 L401.28 186.88 L402.17 186.85 L403.07 186.83 L403.96 186.80 L404.86 186.77 L405.75 186.74 L406.64 186.71 L407.54 186.68 L408.43 186.64 L409.33 186.60 L410.22 186.56 L411.12 186.51 L412.01 186.46 L412.90 186.41 L413.80 186.35 L414.69 186.29 L415.59 186.23 L416.48 186.16 L417.37 186.08 L418.27 186.01 L419.16 185.92 L420.06 185.83 L420.95 185.73 L421.85 185.63 L422.74 185.52 L423.63 185.40 L424.53 185.27 L425.42 185.14 L426.32 184.99 L427.21 184.84 L428.11 184.67 L429.00 184.50 L429.89 184.31 L430.79 184.11 L431.68 183.90 L432.58 183.67 L433.47 183.43 L434.37 183.17 L435.26 182.90 L436.15 182.61 L437.05 182.30 L437.94 181.97 L438.84 181.63 L439.73 181.26 L440.62 180.88 L441.52 180.47 L442.41 180.03 L443.31 179.58 L444.20 179.10 L445.10 178.59 L445.99 178.06 L446.88 177.50 L447.78 176.92 L448.67 176.31 L449.57 175.67 L450.46 175.00 L451.36 174.30 L452.25 173.58 L453.14 172.83 L454.04 172.05 L454.93 171.24 L455.83 170.41 L456.72 169.55 L457.62 168.67 L458.51 167.77 L459.40 166.84 L460.30 165.90 L461.19 164.93 L462.09 163.95 L462.98 162.95 L463.87 161.95 L464.77 160.93 L465.66 159.91 L466.56 158.88 L467.45 157.85 L468.35 156.82 L469.24 155.79 L470.13 154.77 L471.03 153.76 L471.92 152.75 L472.82 151.76 L473.71 150.79 L474.61 149.83 L475.50 148.89 L476.39 147.97 L477.29 147.08 L478.18 146.20 L479.08 145.36 L479.97 144.53 L480.87 143.74 L481.76 142.97 L482.65 142.23 L483.55 141.51 L484.44 140.83 L485.34 140.17 L486.23 139.54 L487.12 138.94 L488.02 138.36 L488.91 137.81 L489.81 137.29 L490.70 136.80 L491.60 136.32 L492.49 135.88 L493.38 135.45 L494.28 135.05 L495.17 134.67 L496.07 134.31 L496.96 133.98 L497.86 133.66 L498.75 133.36 L499.64 133.07 L500.54 132.81" fill="none" stroke="#f58a40" stroke-width="1.3"/>
<path d="M358.36 187.03 L359.25 187.03 L360.14 187.02 L361.04 187.01 L361.93 187.00 L362.83 187.00 L363.72 186.99 L364.62 186.98 L365.51 186.97 L366.40 186.96 L367.30 186.95 L368.19 186.93 L369.09 186.92 L369.98 186.91 L370.87 186.90 L371.77 186.88 L372.66 186.87 L373.56 186.85 L374.45 186.84 L375.35 186.82 L376.24 186.80 L377.13 186.78 L378.03 186.76 L378.92 186.74 L379.82 186.72 L380.71 186.70 L381.61 186.67 L382.50 186.65 L383.39 186.62 L384.29 186.59 L385.18 186.56 L386.08 186.53 L386.97 186.50 L387.87 186.46 L388.76 186.42 L389.65 186.39 L390.55 186.34 L391.44 186.30 L392.34 186.26 L393.23 186.21 L394.12 186.16 L395.02 186.11 L395.91 186.05 L396.81 185.99 L397.70 185.93 L398.60 185.87 L399.49 185.80 L400.38 185.73 L401.28 185.66 L402.17 185.58 L403.07 185.50 L403.96 185.41 L404.86 185.32 L405.75 185.23 L406.64 185.13 L407.54 185.03 L408.43 184.92 L409.33 184.80 L410.22 184.68 L411.12 184.56 L412.01 184.43 L412.90 184.29 L413.80 184.15 L414.69 183.99 L415.59 183.84 L416.48 183.67 L417.37 183.50 L418.27 183.32 L419.16 183.13 L420.06 182.93 L420.95 182.72 L421.85 182.51 L422.74 182.28 L423.63 182.05 L424.53 181.80 L425.42 181.55 L426.32 181.28 L427.21 181.00 L428.11 180.72 L429.00 180.42 L429.89 180.10 L430.79 179.78 L431.68 179.45 L432.58 179.10 L433.47 178.74 L434.37 178.36 L435.26 177.97 L436.15 177.57 L437.05 177.16 L437.94 176.73 L438.84 176.29 L439.73 175.83 L440.62 175.36 L441.52 174.88 L442.41 174.39 L443.31 173.88 L444.20 173.35 L445.10 172.82 L445.99 172.27 L446.88 171.71 L447.78 171.13 L448.67 170.55 L449.57 169.95 L450.46 169.34 L451.36 168.72 L452.25 168.10 L453.14 167.46 L454.04 166.81 L454.93 166.16 L455.83 165.50 L456.72 164.83 L457.62 164.16 L458.51 163.48 L459.40 162.80 L460.30 162.12 L461.19 161.44 L462.09 160.75 L462.98 160.07 L463.87 159.38 L464.77 158.70 L465.66 158.02 L466.56 157.34 L467.45 156.67 L468.35 156.01 L469.24 155.35 L470.13 154.69 L471.03 154.05 L471.92 153.41 L472.82 152.78 L473.71 152.16 L474.61 151.56 L475.50 150.96 L476.39 150.38 L477.29 149.80 L478.18 149.24 L479.08 148.69 L479.97 148.16 L480.87 147.63 L481.76 147.12 L482.65 146.63 L483.55 146.15 L484.44 145.68 L485.34 145.22 L486.23 144.78 L487.12 144.36 L488.02 143.94 L488.91 143.54 L489.81 143.15 L490.70 142.78 L491.60 142.42 L492.49 142.07 L493.38 141.74 L494.28 141.41 L495.17 141.10 L496.07 140.80 L496.96 140.51 L497.86 140.24 L498.75 139.97 L499.64 139.72 L500.54 139.47" fill="none" stroke="#3a3ad0" stroke-width="1.3"/>
<path d="M358.36 187.16 L359.25 187.16 L360.14 187.16 L361.04 187.16 L361.93 187.16 L362.83 187.16 L363.72 187.16 L364.62 187.16 L365.51 187.16 L366.40 187.16 L367.30 187.16 L368.19 187.16 L369.09 187.16 L369.98 187.16 L370.87 187.16 L371.77 187.16 L372.66 187.16 L373.56 187.16 L374.45 187.16 L375.35 187.16 L376.24 187.16 L377.13 187.16 L378.03 187.16 L378.92 187.16 L379.82 187.15 L380.71 187.15 L381.61 187.15 L382.50 187.15 L383.39 187.15 L384.29 187.15 L385.18 187.15 L386.08 187.15 L386.97 187.15 L387.87 187.15 L388.76 187.15 L389.65 187.14 L390.55 187.14 L391.44 187.14 L392.34 187.14 L393.23 187.14 L394.12 187.13 L395.02 187.13 L395.91 187.13 L396.81 187.12 L397.70 187.12 L398.60 187.12 L399.49 187.11 L400.38 187.11 L401.28 187.10 L402.17 187.10 L403.07 187.09 L403.96 187.08 L404.86 187.07 L405.75 187.06 L406.64 187.05 L407.54 187.04 L408.43 187.03 L409.33 187.02 L410.22 187.00 L411.12 186.99 L412.01 186.97 L412.90 186.95 L413.80 186.93 L414.69 186.90 L415.59 186.88 L416.48 186.85 L417.37 186.81 L418.27 186.78 L419.16 186.74 L420.06 186.69 L420.95 186.64 L421.85 186.59 L422.74 186.53 L423.63 186.47 L424.53 186.40 L425.42 186.32 L426.32 186.23 L427.21 186.14 L428.11 186.03 L429.00 185.92 L429.89 185.79 L430.79 185.65 L431.68 185.50 L432.58 185.33 L433.47 185.15 L434.37 184.95 L435.26 184.73 L436.15 184.49 L437.05 184.23 L437.94 183.95 L438.84 183.64 L439.73 183.31 L440.62 182.95 L441.52 182.56 L442.41 182.13 L443.31 181.68 L444.20 181.19 L445.10 180.66 L445.99 180.10 L446.88 179.50 L447.78 178.86 L448.67 178.18 L449.57 177.47 L450.46 176.71 L451.36 175.92 L452.25 175.10 L453.14 174.24 L454.04 173.35 L454.93 172.43 L455.83 171.49 L456.72 170.53 L457.62 169.55 L458.51 168.56 L459.40 167.56 L460.30 166.56 L461.19 165.57 L462.09 164.58 L462.98 163.60 L463.87 162.65 L464.77 161.71 L465.66 160.80 L466.56 159.91 L467.45 159.06 L468.35 158.24 L469.24 157.46 L470.13 156.72 L471.03 156.01 L471.92 155.34 L472.82 154.71 L473.71 154.12 L474.61 153.56 L475.50 153.04 L476.39 152.56 L477.29 152.11 L478.18 151.69 L479.08 151.31 L479.97 150.95 L480.87 150.62 L481.76 150.32 L482.65 150.04 L483.55 149.79 L484.44 149.55 L485.34 149.34 L486.23 149.14 L487.12 148.96 L488.02 148.80 L488.91 148.65 L489.81 148.51 L490.70 148.39 L491.60 148.28 L492.49 148.17 L493.38 148.08 L494.28 148.00 L495.17 147.92 L496.07 147.85 L496.96 147.79 L497.86 147.73 L498.75 147.68 L499.64 147.63 L500.54 147.58" fill="none" stroke="#70b8f4" stroke-width="1.3"/>
<line x1="484.74" y1="93.40" x2="484.74" y2="102.80" stroke="#f04848" stroke-width="0.9"/>
<line x1="482.54" y1="93.40" x2="486.94" y2="93.40" stroke="#f04848" stroke-width="0.9"/>
<line x1="482.54" y1="102.80" x2="486.94" y2="102.80" stroke="#f04848" stroke-width="0.9"/>
<line x1="484.74" y1="131.30" x2="484.74" y2="150.80" stroke="#f58a40" stroke-width="0.9"/>
<line x1="482.54" y1="131.30" x2="486.94" y2="131.30" stroke="#f58a40" stroke-width="0.9"/>
<line x1="482.54" y1="150.80" x2="486.94" y2="150.80" stroke="#f58a40" stroke-width="0.9"/>
<line x1="500.54" y1="138.50" x2="500.54" y2="160.70" stroke="#70b8f4" stroke-width="0.9"/>
<line x1="498.34" y1="138.50" x2="502.74" y2="138.50" stroke="#70b8f4" stroke-width="0.9"/>
<line x1="498.34" y1="160.70" x2="502.74" y2="160.70" stroke="#70b8f4" stroke-width="0.9"/>
<line x1="500.54" y1="133.80" x2="500.54" y2="142.50" stroke="#3a3ad0" stroke-width="0.9"/>
<line x1="498.34" y1="133.80" x2="502.74" y2="133.80" stroke="#3a3ad0" stroke-width="0.9"/>
<line x1="498.34" y1="142.50" x2="502.74" y2="142.50" stroke="#3a3ad0" stroke-width="0.9"/>
<line x1="468.94" y1="155.60" x2="468.94" y2="162.20" stroke="#70b8f4" stroke-width="0.9"/>
<line x1="466.74" y1="155.60" x2="471.14" y2="155.60" stroke="#70b8f4" stroke-width="0.9"/>
<line x1="466.74" y1="162.20" x2="471.14" y2="162.20" stroke="#70b8f4" stroke-width="0.9"/>
<line x1="468.94" y1="150.50" x2="468.94" y2="159.30" stroke="#3a3ad0" stroke-width="0.9"/>
<line x1="466.74" y1="150.50" x2="471.14" y2="150.50" stroke="#3a3ad0" stroke-width="0.9"/>
<line x1="466.74" y1="159.30" x2="471.14" y2="159.30" stroke="#3a3ad0" stroke-width="0.9"/>
<circle cx="354.00" cy="187.30" r="2.4" fill="none" stroke="#111" stroke-width="1.25"/>
<polygon points="355.61,185.43 361.11,185.43 358.36,190.38" fill="#5aacf2"/>
<polygon points="371.40,185.33 376.90,185.33 374.15,190.28" fill="#5aacf2"/>
<polygon points="387.20,185.12 392.70,185.12 389.95,190.07" fill="#5aacf2"/>
<polygon points="403.00,184.93 408.50,184.93 405.75,189.88" fill="#5aacf2"/>
<polygon points="418.80,184.33 424.30,184.33 421.55,189.28" fill="#5aacf2"/>
<polygon points="434.60,181.03 440.10,181.03 437.35,185.97" fill="#5aacf2"/>
<polygon points="450.39,172.53 455.89,172.53 453.14,177.47" fill="#5aacf2"/>
<polygon points="466.19,156.03 471.69,156.03 468.94,160.97" fill="#5aacf2"/>
<polygon points="481.99,147.03 487.49,147.03 484.74,151.97" fill="#5aacf2"/>
<polygon points="497.79,146.62 503.29,146.62 500.54,151.57" fill="#5aacf2"/>
<polygon points="355.61,190.07 361.11,190.07 358.36,185.12" fill="#f57a20"/>
<polygon points="371.40,189.97 376.90,189.97 374.15,185.03" fill="#f57a20"/>
<polygon points="387.20,189.88 392.70,189.88 389.95,184.93" fill="#f57a20"/>
<polygon points="403.00,189.67 408.50,189.67 405.75,184.72" fill="#f57a20"/>
<polygon points="418.80,188.97 424.30,188.97 421.55,184.03" fill="#f57a20"/>
<polygon points="434.60,184.28 440.10,184.28 437.35,179.33" fill="#f57a20"/>
<polygon points="450.39,176.28 455.89,176.28 453.14,171.33" fill="#f57a20"/>
<polygon points="466.19,158.97 471.69,158.97 468.94,154.03" fill="#f57a20"/>
<polygon points="481.99,144.28 487.49,144.28 484.74,139.33" fill="#f57a20"/>
<polygon points="497.79,134.88 503.29,134.88 500.54,129.93" fill="#f57a20"/>
<circle cx="358.36" cy="186.90" r="2.7" fill="#1010c8"/>
<circle cx="374.15" cy="186.60" r="2.7" fill="#1010c8"/>
<circle cx="389.95" cy="186.20" r="2.7" fill="#1010c8"/>
<circle cx="405.75" cy="185.60" r="2.7" fill="#1010c8"/>
<circle cx="421.55" cy="183.60" r="2.7" fill="#1010c8"/>
<circle cx="437.35" cy="177.90" r="2.7" fill="#1010c8"/>
<circle cx="453.14" cy="166.50" r="2.7" fill="#1010c8"/>
<circle cx="468.94" cy="155.60" r="2.7" fill="#1010c8"/>
<circle cx="484.74" cy="147.30" r="2.7" fill="#1010c8"/>
<circle cx="500.54" cy="138.20" r="2.7" fill="#1010c8"/>
<rect x="355.71" y="179.15" width="5.3" height="5.3" fill="#f01818"/>
<rect x="371.50" y="176.05" width="5.3" height="5.3" fill="#f01818"/>
<rect x="387.30" y="170.45" width="5.3" height="5.3" fill="#f01818"/>
<rect x="403.10" y="169.75" width="5.3" height="5.3" fill="#f01818"/>
<rect x="418.90" y="160.05" width="5.3" height="5.3" fill="#f01818"/>
<rect x="434.70" y="144.65" width="5.3" height="5.3" fill="#f01818"/>
<rect x="450.49" y="118.35" width="5.3" height="5.3" fill="#f01818"/>
<rect x="466.29" y="93.15" width="5.3" height="5.3" fill="#f01818"/>
<rect x="482.09" y="95.35" width="5.3" height="5.3" fill="#f01818"/>
<rect x="497.89" y="104.55" width="5.3" height="5.3" fill="#f01818"/>
<line x1="53.00" y1="339.75" x2="53.00" y2="463.05" stroke="#1c1c1c" stroke-width="1.3"/>
<line x1="48.00" y1="462.40" x2="53.00" y2="462.40" stroke="#1c1c1c" stroke-width="1.3"/>
<text id="t_b_y0" x="43.20" y="465.70" font-size="9.6" font-weight="bold" fill="#1a1a1a" text-anchor="middle" textLength="5.37" lengthAdjust="spacingAndGlyphs" stroke="#1a1a1a" stroke-width="0.28">0</text>
<line x1="48.00" y1="431.90" x2="53.00" y2="431.90" stroke="#1c1c1c" stroke-width="1.3"/>
<text id="t_b_ys1" x="44.60" y="431.70" font-size="5.3" font-weight="bold" fill="#1a1a1a" text-anchor="middle" textLength="3.42" lengthAdjust="spacingAndGlyphs" stroke="#1a1a1a" stroke-width="0.28">5</text>
<text id="t_b_ym1" x="31.85" y="434.50" font-size="9.0" font-weight="bold" fill="#1a1a1a" text-anchor="middle" textLength="20.02" lengthAdjust="spacingAndGlyphs" stroke="#1a1a1a" stroke-width="0.28">1×10</text>
<line x1="48.00" y1="401.40" x2="53.00" y2="401.40" stroke="#1c1c1c" stroke-width="1.3"/>
<text id="t_b_ys2" x="44.60" y="401.20" font-size="5.3" font-weight="bold" fill="#1a1a1a" text-anchor="middle" textLength="3.42" lengthAdjust="spacingAndGlyphs" stroke="#1a1a1a" stroke-width="0.28">5</text>
<text id="t_b_ym2" x="31.85" y="404.00" font-size="9.0" font-weight="bold" fill="#1a1a1a" text-anchor="middle" textLength="20.02" lengthAdjust="spacingAndGlyphs" stroke="#1a1a1a" stroke-width="0.28">2×10</text>
<line x1="48.00" y1="370.90" x2="53.00" y2="370.90" stroke="#1c1c1c" stroke-width="1.3"/>
<text id="t_b_ys3" x="44.60" y="370.70" font-size="5.3" font-weight="bold" fill="#1a1a1a" text-anchor="middle" textLength="3.42" lengthAdjust="spacingAndGlyphs" stroke="#1a1a1a" stroke-width="0.28">5</text>
<text id="t_b_ym3" x="31.85" y="373.50" font-size="9.0" font-weight="bold" fill="#1a1a1a" text-anchor="middle" textLength="20.02" lengthAdjust="spacingAndGlyphs" stroke="#1a1a1a" stroke-width="0.28">3×10</text>
<line x1="48.00" y1="340.40" x2="53.00" y2="340.40" stroke="#1c1c1c" stroke-width="1.3"/>
<text id="t_b_ys4" x="44.60" y="340.20" font-size="5.3" font-weight="bold" fill="#1a1a1a" text-anchor="middle" textLength="3.42" lengthAdjust="spacingAndGlyphs" stroke="#1a1a1a" stroke-width="0.28">5</text>
<text id="t_b_ym4" x="31.85" y="343.00" font-size="9.0" font-weight="bold" fill="#1a1a1a" text-anchor="middle" textLength="20.02" lengthAdjust="spacingAndGlyphs" stroke="#1a1a1a" stroke-width="0.28">4×10</text>
<line x1="52.35" y1="462.40" x2="237.75" y2="462.40" stroke="#1c1c1c" stroke-width="1.3"/>
<line x1="53.00" y1="462.40" x2="53.00" y2="467.60" stroke="#1c1c1c" stroke-width="1.3"/>
<text x="55.90" y="476.90" font-size="9.5" font-weight="bold" text-anchor="end" fill="#1a1a1a" stroke="#1a1a1a" stroke-width="0.25" transform="rotate(-45 55.90 476.90)">0.00001</text>
<line x1="79.30" y1="462.40" x2="79.30" y2="467.60" stroke="#1c1c1c" stroke-width="1.3"/>
<text x="82.20" y="476.90" font-size="9.5" font-weight="bold" text-anchor="end" fill="#1a1a1a" stroke="#1a1a1a" stroke-width="0.25" transform="rotate(-45 82.20 476.90)">0.0001</text>
<line x1="105.60" y1="462.40" x2="105.60" y2="467.60" stroke="#1c1c1c" stroke-width="1.3"/>
<text x="108.50" y="476.90" font-size="9.5" font-weight="bold" text-anchor="end" fill="#1a1a1a" stroke="#1a1a1a" stroke-width="0.25" transform="rotate(-45 108.50 476.90)">0.001</text>
<line x1="131.90" y1="462.40" x2="131.90" y2="467.60" stroke="#1c1c1c" stroke-width="1.3"/>
<text x="134.80" y="476.90" font-size="9.5" font-weight="bold" text-anchor="end" fill="#1a1a1a" stroke="#1a1a1a" stroke-width="0.25" transform="rotate(-45 134.80 476.90)">0.01</text>
<line x1="158.20" y1="462.40" x2="158.20" y2="467.60" stroke="#1c1c1c" stroke-width="1.3"/>
<text x="161.10" y="476.90" font-size="9.5" font-weight="bold" text-anchor="end" fill="#1a1a1a" stroke="#1a1a1a" stroke-width="0.25" transform="rotate(-45 161.10 476.90)">0.1</text>
<line x1="184.50" y1="462.40" x2="184.50" y2="467.60" stroke="#1c1c1c" stroke-width="1.3"/>
<text x="187.40" y="476.90" font-size="9.5" font-weight="bold" text-anchor="end" fill="#1a1a1a" stroke="#1a1a1a" stroke-width="0.25" transform="rotate(-45 187.40 476.90)">1</text>
<line x1="210.80" y1="462.40" x2="210.80" y2="467.60" stroke="#1c1c1c" stroke-width="1.3"/>
<text x="213.70" y="476.90" font-size="9.5" font-weight="bold" text-anchor="end" fill="#1a1a1a" stroke="#1a1a1a" stroke-width="0.25" transform="rotate(-45 213.70 476.90)">10</text>
<line x1="237.10" y1="462.40" x2="237.10" y2="467.60" stroke="#1c1c1c" stroke-width="1.3"/>
<text x="240.00" y="476.90" font-size="9.5" font-weight="bold" text-anchor="end" fill="#1a1a1a" stroke="#1a1a1a" stroke-width="0.25" transform="rotate(-45 240.00 476.90)">100</text>
<line x1="58.40" y1="342.60" x2="71.40" y2="342.60" stroke="#f01818" stroke-width="1.0"/>
<rect x="62.30" y="340.00" width="5.2" height="5.2" fill="#f01818"/>
<line x1="58.40" y1="358.70" x2="71.40" y2="358.70" stroke="#f57a20" stroke-width="1.0"/>
<polygon points="61.70,361.58 68.10,361.58 64.90,355.82" fill="#f57a20"/>
<circle cx="64.90" cy="374.80" r="2.5" fill="none" stroke="#111" stroke-width="1.25"/>
<path d="M83.40 453.83 L84.30 453.83 L85.19 453.83 L86.09 453.83 L86.99 453.83 L87.88 453.83 L88.78 453.83 L89.67 453.83 L90.57 453.83 L91.46 453.83 L92.36 453.83 L93.25 453.83 L94.15 453.83 L95.05 453.83 L95.94 453.83 L96.84 453.83 L97.73 453.83 L98.63 453.83 L99.52 453.83 L100.42 453.83 L101.31 453.83 L102.21 453.83 L103.11 453.82 L104.00 453.82 L104.90 453.82 L105.79 453.82 L106.69 453.82 L107.58 453.82 L108.48 453.82 L109.38 453.82 L110.27 453.82 L111.17 453.82 L112.06 453.81 L112.96 453.81 L113.85 453.81 L114.75 453.81 L115.64 453.81 L116.54 453.80 L117.44 453.80 L118.33 453.80 L119.23 453.79 L120.12 453.79 L121.02 453.78 L121.91 453.78 L122.81 453.77 L123.70 453.76 L124.60 453.75 L125.50 453.75 L126.39 453.74 L127.29 453.72 L128.18 453.71 L129.08 453.70 L129.97 453.68 L130.87 453.66 L131.76 453.65 L132.66 453.62 L133.56 453.60 L134.45 453.57 L135.35 453.54 L136.24 453.51 L137.14 453.47 L138.03 453.42 L138.93 453.38 L139.83 453.32 L140.72 453.26 L141.62 453.19 L142.51 453.12 L143.41 453.04 L144.30 452.94 L145.20 452.84 L146.09 452.72 L146.99 452.59 L147.89 452.44 L148.78 452.28 L149.68 452.10 L150.57 451.90 L151.47 451.67 L152.36 451.42 L153.26 451.15 L154.15 450.84 L155.05 450.49 L155.95 450.11 L156.84 449.69 L157.74 449.23 L158.63 448.71 L159.53 448.14 L160.42 447.52 L161.32 446.83 L162.22 446.07 L163.11 445.25 L164.01 444.34 L164.90 443.36 L165.80 442.28 L166.69 441.12 L167.59 439.87 L168.48 438.52 L169.38 437.07 L170.28 435.53 L171.17 433.88 L172.07 432.14 L172.96 430.31 L173.86 428.39 L174.75 426.39 L175.65 424.31 L176.54 422.18 L177.44 419.99 L178.34 417.76 L179.23 415.50 L180.13 413.24 L181.02 410.97 L181.92 408.73 L182.81 406.51 L183.71 404.34 L184.60 402.22 L185.50 400.17 L186.40 398.20 L187.29 396.31 L188.19 394.51 L189.08 392.80 L189.98 391.19 L190.87 389.68 L191.77 388.27 L192.67 386.96 L193.56 385.73 L194.46 384.61 L195.35 383.56 L196.25 382.61 L197.14 381.73 L198.04 380.93 L198.93 380.20 L199.83 379.53 L200.73 378.93 L201.62 378.38 L202.52 377.88 L203.41 377.43 L204.31 377.03 L205.20 376.66 L206.10 376.33 L206.99 376.03 L207.89 375.77 L208.79 375.52 L209.68 375.31 L210.58 375.11 L211.47 374.94 L212.37 374.78 L213.26 374.64 L214.16 374.52 L215.06 374.41 L215.95 374.30 L216.85 374.21 L217.74 374.13 L218.64 374.06 L219.53 374.00 L220.43 373.94 L221.32 373.89 L222.22 373.84 L223.12 373.80 L224.01 373.76 L224.91 373.73 L225.80 373.70" fill="none" stroke="#f04848" stroke-width="1.3"/>
<path d="M83.40 461.52 L84.30 461.52 L85.19 461.52 L86.09 461.52 L86.99 461.52 L87.88 461.52 L88.78 461.52 L89.67 461.52 L90.57 461.52 L91.46 461.52 L92.36 461.52 L93.25 461.52 L94.15 461.52 L95.05 461.52 L95.94 461.52 L96.84 461.52 L97.73 461.52 L98.63 461.52 L99.52 461.52 L100.42 461.52 L101.31 461.52 L102.21 461.52 L103.11 461.52 L104.00 461.52 L104.90 461.52 L105.79 461.52 L106.69 461.52 L107.58 461.52 L108.48 461.52 L109.38 461.52 L110.27 461.52 L111.17 461.51 L112.06 461.51 L112.96 461.51 L113.85 461.51 L114.75 461.51 L115.64 461.51 L116.54 461.51 L117.44 461.51 L118.33 461.51 L119.23 461.51 L120.12 461.51 L121.02 461.50 L121.91 461.50 L122.81 461.50 L123.70 461.50 L124.60 461.50 L125.50 461.49 L126.39 461.49 L127.29 461.49 L128.18 461.48 L129.08 461.48 L129.97 461.47 L130.87 461.47 L131.76 461.46 L132.66 461.46 L133.56 461.45 L134.45 461.44 L135.35 461.43 L136.24 461.42 L137.14 461.41 L138.03 461.40 L138.93 461.39 L139.83 461.37 L140.72 461.35 L141.62 461.34 L142.51 461.31 L143.41 461.29 L144.30 461.27 L145.20 461.24 L146.09 461.21 L146.99 461.17 L147.89 461.13 L148.78 461.09 L149.68 461.04 L150.57 460.99 L151.47 460.93 L152.36 460.87 L153.26 460.80 L154.15 460.72 L155.05 460.63 L155.95 460.53 L156.84 460.43 L157.74 460.31 L158.63 460.18 L159.53 460.03 L160.42 459.87 L161.32 459.69 L162.22 459.50 L163.11 459.28 L164.01 459.04 L164.90 458.78 L165.80 458.49 L166.69 458.17 L167.59 457.83 L168.48 457.45 L169.38 457.03 L170.28 456.57 L171.17 456.08 L172.07 455.54 L172.96 454.95 L173.86 454.32 L174.75 453.63 L175.65 452.89 L176.54 452.09 L177.44 451.24 L178.34 450.33 L179.23 449.36 L180.13 448.33 L181.02 447.25 L181.92 446.10 L182.81 444.91 L183.71 443.66 L184.60 442.36 L185.50 441.03 L186.40 439.65 L187.29 438.25 L188.19 436.83 L189.08 435.38 L189.98 433.94 L190.87 432.49 L191.77 431.05 L192.67 429.63 L193.56 428.23 L194.46 426.86 L195.35 425.53 L196.25 424.25 L197.14 423.01 L198.04 421.82 L198.93 420.69 L199.83 419.61 L200.73 418.59 L201.62 417.63 L202.52 416.73 L203.41 415.89 L204.31 415.10 L205.20 414.37 L206.10 413.69 L206.99 413.06 L207.89 412.49 L208.79 411.95 L209.68 411.47 L210.58 411.02 L211.47 410.61 L212.37 410.23 L213.26 409.89 L214.16 409.58 L215.06 409.30 L215.95 409.04 L216.85 408.80 L217.74 408.59 L218.64 408.40 L219.53 408.22 L220.43 408.06 L221.32 407.92 L222.22 407.79 L223.12 407.67 L224.01 407.57 L224.91 407.47 L225.80 407.39" fill="none" stroke="#f58a40" stroke-width="1.3"/>
<line x1="194.16" y1="373.60" x2="194.16" y2="387.30" stroke="#f04848" stroke-width="0.9"/>
<line x1="191.96" y1="373.60" x2="196.36" y2="373.60" stroke="#f04848" stroke-width="0.9"/>
<line x1="191.96" y1="387.30" x2="196.36" y2="387.30" stroke="#f04848" stroke-width="0.9"/>
<line x1="209.98" y1="358.30" x2="209.98" y2="382.60" stroke="#f04848" stroke-width="0.9"/>
<line x1="207.78" y1="358.30" x2="212.18" y2="358.30" stroke="#f04848" stroke-width="0.9"/>
<line x1="207.78" y1="382.60" x2="212.18" y2="382.60" stroke="#f04848" stroke-width="0.9"/>
<line x1="225.80" y1="408.50" x2="225.80" y2="414.50" stroke="#f58a40" stroke-width="0.9"/>
<line x1="223.60" y1="408.50" x2="228.00" y2="408.50" stroke="#f58a40" stroke-width="0.9"/>
<line x1="223.60" y1="414.50" x2="228.00" y2="414.50" stroke="#f58a40" stroke-width="0.9"/>
<circle cx="79.30" cy="462.00" r="2.4" fill="none" stroke="#111" stroke-width="1.25"/>
<polygon points="80.65,464.08 86.15,464.08 83.40,459.12" fill="#f57a20"/>
<polygon points="96.48,463.98 101.98,463.98 99.23,459.02" fill="#f57a20"/>
<polygon points="112.30,463.78 117.80,463.78 115.05,458.82" fill="#f57a20"/>
<polygon points="128.12,463.58 133.62,463.58 130.87,458.62" fill="#f57a20"/>
<polygon points="143.94,462.88 149.44,462.88 146.69,457.92" fill="#f57a20"/>
<polygon points="159.76,459.98 165.26,459.98 162.51,455.02" fill="#f57a20"/>
<polygon points="175.59,451.78 181.09,451.78 178.34,446.82" fill="#f57a20"/>
<polygon points="191.41,430.48 196.91,430.48 194.16,425.52" fill="#f57a20"/>
<polygon points="207.23,409.18 212.73,409.18 209.98,404.22" fill="#f57a20"/>
<polygon points="223.05,414.38 228.55,414.38 225.80,409.42" fill="#f57a20"/>
<rect x="80.75" y="456.85" width="5.3" height="5.3" fill="#f01818"/>
<rect x="96.58" y="455.65" width="5.3" height="5.3" fill="#f01818"/>
<rect x="112.40" y="452.85" width="5.3" height="5.3" fill="#f01818"/>
<rect x="128.22" y="450.65" width="5.3" height="5.3" fill="#f01818"/>
<rect x="144.04" y="448.55" width="5.3" height="5.3" fill="#f01818"/>
<rect x="159.86" y="437.65" width="5.3" height="5.3" fill="#f01818"/>
<rect x="175.69" y="417.75" width="5.3" height="5.3" fill="#f01818"/>
<rect x="191.51" y="378.05" width="5.3" height="5.3" fill="#f01818"/>
<rect x="207.33" y="366.95" width="5.3" height="5.3" fill="#f01818"/>
<rect x="223.15" y="379.95" width="5.3" height="5.3" fill="#f01818"/>
<line x1="327.30" y1="343.35" x2="327.30" y2="467.05" stroke="#1c1c1c" stroke-width="1.3"/>
<line x1="322.30" y1="466.40" x2="327.30" y2="466.40" stroke="#1c1c1c" stroke-width="1.3"/>
<text id="t_c_y0" x="317.50" y="469.70" font-size="9.6" font-weight="bold" fill="#1a1a1a" text-anchor="middle" textLength="5.37" lengthAdjust="spacingAndGlyphs" stroke="#1a1a1a" stroke-width="0.28">0</text>
<line x1="322.30" y1="435.80" x2="327.30" y2="435.80" stroke="#1c1c1c" stroke-width="1.3"/>
<text id="t_c_ys1" x="318.90" y="435.60" font-size="5.3" font-weight="bold" fill="#1a1a1a" text-anchor="middle" textLength="3.42" lengthAdjust="spacingAndGlyphs" stroke="#1a1a1a" stroke-width="0.28">4</text>
<text id="t_c_ym1" x="306.15" y="438.40" font-size="9.0" font-weight="bold" fill="#1a1a1a" text-anchor="middle" textLength="20.02" lengthAdjust="spacingAndGlyphs" stroke="#1a1a1a" stroke-width="0.28">1×10</text>
<line x1="322.30" y1="405.20" x2="327.30" y2="405.20" stroke="#1c1c1c" stroke-width="1.3"/>
<text id="t_c_ys2" x="318.90" y="405.00" font-size="5.3" font-weight="bold" fill="#1a1a1a" text-anchor="middle" textLength="3.42" lengthAdjust="spacingAndGlyphs" stroke="#1a1a1a" stroke-width="0.28">4</text>
<text id="t_c_ym2" x="306.15" y="407.80" font-size="9.0" font-weight="bold" fill="#1a1a1a" text-anchor="middle" textLength="20.02" lengthAdjust="spacingAndGlyphs" stroke="#1a1a1a" stroke-width="0.28">2×10</text>
<line x1="322.30" y1="374.60" x2="327.30" y2="374.60" stroke="#1c1c1c" stroke-width="1.3"/>
<text id="t_c_ys3" x="318.90" y="374.40" font-size="5.3" font-weight="bold" fill="#1a1a1a" text-anchor="middle" textLength="3.42" lengthAdjust="spacingAndGlyphs" stroke="#1a1a1a" stroke-width="0.28">4</text>
<text id="t_c_ym3" x="306.15" y="377.20" font-size="9.0" font-weight="bold" fill="#1a1a1a" text-anchor="middle" textLength="20.02" lengthAdjust="spacingAndGlyphs" stroke="#1a1a1a" stroke-width="0.28">3×10</text>
<line x1="322.30" y1="344.00" x2="327.30" y2="344.00" stroke="#1c1c1c" stroke-width="1.3"/>
<text id="t_c_ys4" x="318.90" y="343.80" font-size="5.3" font-weight="bold" fill="#1a1a1a" text-anchor="middle" textLength="3.42" lengthAdjust="spacingAndGlyphs" stroke="#1a1a1a" stroke-width="0.28">4</text>
<text id="t_c_ym4" x="306.15" y="346.60" font-size="9.0" font-weight="bold" fill="#1a1a1a" text-anchor="middle" textLength="20.02" lengthAdjust="spacingAndGlyphs" stroke="#1a1a1a" stroke-width="0.28">4×10</text>
<line x1="326.65" y1="466.40" x2="512.05" y2="466.40" stroke="#1c1c1c" stroke-width="1.3"/>
<line x1="327.30" y1="466.40" x2="327.30" y2="471.60" stroke="#1c1c1c" stroke-width="1.3"/>
<text x="330.20" y="480.90" font-size="9.5" font-weight="bold" text-anchor="end" fill="#1a1a1a" stroke="#1a1a1a" stroke-width="0.25" transform="rotate(-45 330.20 480.90)">0.00001</text>
<line x1="353.60" y1="466.40" x2="353.60" y2="471.60" stroke="#1c1c1c" stroke-width="1.3"/>
<text x="356.50" y="480.90" font-size="9.5" font-weight="bold" text-anchor="end" fill="#1a1a1a" stroke="#1a1a1a" stroke-width="0.25" transform="rotate(-45 356.50 480.90)">0.0001</text>
<line x1="379.90" y1="466.40" x2="379.90" y2="471.60" stroke="#1c1c1c" stroke-width="1.3"/>
<text x="382.80" y="480.90" font-size="9.5" font-weight="bold" text-anchor="end" fill="#1a1a1a" stroke="#1a1a1a" stroke-width="0.25" transform="rotate(-45 382.80 480.90)">0.001</text>
<line x1="406.20" y1="466.40" x2="406.20" y2="471.60" stroke="#1c1c1c" stroke-width="1.3"/>
<text x="409.10" y="480.90" font-size="9.5" font-weight="bold" text-anchor="end" fill="#1a1a1a" stroke="#1a1a1a" stroke-width="0.25" transform="rotate(-45 409.10 480.90)">0.01</text>
<line x1="432.50" y1="466.40" x2="432.50" y2="471.60" stroke="#1c1c1c" stroke-width="1.3"/>
<text x="435.40" y="480.90" font-size="9.5" font-weight="bold" text-anchor="end" fill="#1a1a1a" stroke="#1a1a1a" stroke-width="0.25" transform="rotate(-45 435.40 480.90)">0.1</text>
<line x1="458.80" y1="466.40" x2="458.80" y2="471.60" stroke="#1c1c1c" stroke-width="1.3"/>
<text x="461.70" y="480.90" font-size="9.5" font-weight="bold" text-anchor="end" fill="#1a1a1a" stroke="#1a1a1a" stroke-width="0.25" transform="rotate(-45 461.70 480.90)">1</text>
<line x1="485.10" y1="466.40" x2="485.10" y2="471.60" stroke="#1c1c1c" stroke-width="1.3"/>
<text x="488.00" y="480.90" font-size="9.5" font-weight="bold" text-anchor="end" fill="#1a1a1a" stroke="#1a1a1a" stroke-width="0.25" transform="rotate(-45 488.00 480.90)">10</text>
<line x1="511.40" y1="466.40" x2="511.40" y2="471.60" stroke="#1c1c1c" stroke-width="1.3"/>
<text x="514.30" y="480.90" font-size="9.5" font-weight="bold" text-anchor="end" fill="#1a1a1a" stroke="#1a1a1a" stroke-width="0.25" transform="rotate(-45 514.30 480.90)">100</text>
<line x1="334.50" y1="350.20" x2="347.50" y2="350.20" stroke="#1010c8" stroke-width="1.0"/>
<circle cx="341.00" cy="350.20" r="2.7" fill="#1010c8"/>
<line x1="334.50" y1="366.20" x2="347.50" y2="366.20" stroke="#5aacf2" stroke-width="1.0"/>
<polygon points="337.80,363.32 344.20,363.32 341.00,369.08" fill="#5aacf2"/>
<circle cx="341.00" cy="382.20" r="2.5" fill="none" stroke="#111" stroke-width="1.25"/>
<path d="M358.31 463.18 L359.20 463.18 L360.09 463.17 L360.99 463.16 L361.88 463.15 L362.77 463.15 L363.67 463.14 L364.56 463.13 L365.45 463.12 L366.34 463.11 L367.24 463.10 L368.13 463.09 L369.02 463.08 L369.92 463.06 L370.81 463.05 L371.70 463.04 L372.59 463.02 L373.49 463.01 L374.38 462.99 L375.27 462.98 L376.17 462.96 L377.06 462.94 L377.95 462.92 L378.84 462.90 L379.74 462.88 L380.63 462.86 L381.52 462.84 L382.42 462.81 L383.31 462.79 L384.20 462.76 L385.09 462.73 L385.99 462.70 L386.88 462.67 L387.77 462.64 L388.67 462.60 L389.56 462.57 L390.45 462.53 L391.34 462.49 L392.24 462.45 L393.13 462.40 L394.02 462.36 L394.92 462.31 L395.81 462.25 L396.70 462.20 L397.59 462.14 L398.49 462.08 L399.38 462.02 L400.27 461.96 L401.17 461.89 L402.06 461.81 L402.95 461.74 L403.84 461.66 L404.74 461.57 L405.63 461.49 L406.52 461.39 L407.42 461.30 L408.31 461.19 L409.20 461.09 L410.09 460.97 L410.99 460.86 L411.88 460.73 L412.77 460.60 L413.67 460.47 L414.56 460.32 L415.45 460.17 L416.34 460.02 L417.24 459.85 L418.13 459.68 L419.02 459.50 L419.92 459.31 L420.81 459.11 L421.70 458.90 L422.59 458.68 L423.49 458.46 L424.38 458.22 L425.27 457.97 L426.17 457.71 L427.06 457.43 L427.95 457.15 L428.84 456.85 L429.74 456.54 L430.63 456.22 L431.52 455.88 L432.42 455.52 L433.31 455.15 L434.20 454.77 L435.09 454.36 L435.99 453.95 L436.88 453.51 L437.77 453.06 L438.67 452.58 L439.56 452.09 L440.45 451.58 L441.34 451.05 L442.24 450.50 L443.13 449.93 L444.02 449.33 L444.92 448.72 L445.81 448.08 L446.70 447.42 L447.59 446.74 L448.49 446.03 L449.38 445.30 L450.27 444.55 L451.17 443.78 L452.06 442.98 L452.95 442.15 L453.84 441.31 L454.74 440.44 L455.63 439.54 L456.52 438.62 L457.42 437.68 L458.31 436.72 L459.20 435.74 L460.09 434.73 L460.99 433.70 L461.88 432.65 L462.77 431.59 L463.67 430.50 L464.56 429.39 L465.45 428.27 L466.35 427.14 L467.24 425.99 L468.13 424.82 L469.02 423.65 L469.92 422.46 L470.81 421.26 L471.70 420.06 L472.60 418.85 L473.49 417.63 L474.38 416.41 L475.27 415.19 L476.17 413.97 L477.06 412.75 L477.95 411.53 L478.85 410.32 L479.74 409.11 L480.63 407.91 L481.52 406.72 L482.42 405.54 L483.31 404.37 L484.20 403.22 L485.10 402.07 L485.99 400.95 L486.88 399.84 L487.77 398.74 L488.67 397.67 L489.56 396.62 L490.45 395.58 L491.35 394.57 L492.24 393.57 L493.13 392.60 L494.02 391.65 L494.92 390.73 L495.81 389.82 L496.70 388.95 L497.60 388.09 L498.49 387.26 L499.38 386.45 L500.27 385.67" fill="none" stroke="#3a3ad0" stroke-width="1.3"/>
<path d="M358.31 462.89 L359.20 462.89 L360.09 462.89 L360.99 462.89 L361.88 462.89 L362.77 462.89 L363.67 462.89 L364.56 462.89 L365.45 462.89 L366.34 462.89 L367.24 462.89 L368.13 462.88 L369.02 462.88 L369.92 462.88 L370.81 462.88 L371.70 462.88 L372.59 462.88 L373.49 462.87 L374.38 462.87 L375.27 462.87 L376.17 462.87 L377.06 462.86 L377.95 462.86 L378.84 462.86 L379.74 462.86 L380.63 462.85 L381.52 462.85 L382.42 462.84 L383.31 462.84 L384.20 462.83 L385.09 462.83 L385.99 462.82 L386.88 462.82 L387.77 462.81 L388.67 462.80 L389.56 462.79 L390.45 462.78 L391.34 462.77 L392.24 462.76 L393.13 462.75 L394.02 462.74 L394.92 462.73 L395.81 462.71 L396.70 462.70 L397.59 462.68 L398.49 462.66 L399.38 462.64 L400.27 462.62 L401.17 462.60 L402.06 462.58 L402.95 462.55 L403.84 462.52 L404.74 462.49 L405.63 462.46 L406.52 462.42 L407.42 462.38 L408.31 462.34 L409.20 462.29 L410.09 462.25 L410.99 462.19 L411.88 462.13 L412.77 462.07 L413.67 462.01 L414.56 461.93 L415.45 461.86 L416.34 461.77 L417.24 461.68 L418.13 461.58 L419.02 461.48 L419.92 461.37 L420.81 461.24 L421.70 461.11 L422.59 460.97 L423.49 460.82 L424.38 460.66 L425.27 460.48 L426.17 460.29 L427.06 460.09 L427.95 459.88 L428.84 459.65 L429.74 459.40 L430.63 459.13 L431.52 458.85 L432.42 458.55 L433.31 458.23 L434.20 457.88 L435.09 457.52 L435.99 457.13 L436.88 456.72 L437.77 456.29 L438.67 455.82 L439.56 455.34 L440.45 454.83 L441.34 454.29 L442.24 453.72 L443.13 453.13 L444.02 452.50 L444.92 451.86 L445.81 451.18 L446.70 450.48 L447.59 449.75 L448.49 449.00 L449.38 448.22 L450.27 447.43 L451.17 446.61 L452.06 445.77 L452.95 444.92 L453.84 444.05 L454.74 443.17 L455.63 442.28 L456.52 441.39 L457.42 440.49 L458.31 439.59 L459.20 438.69 L460.09 437.80 L460.99 436.92 L461.88 436.04 L462.77 435.18 L463.67 434.33 L464.56 433.50 L465.45 432.69 L466.35 431.90 L467.24 431.13 L468.13 430.39 L469.02 429.67 L469.92 428.98 L470.81 428.31 L471.70 427.67 L472.60 427.06 L473.49 426.47 L474.38 425.92 L475.27 425.39 L476.17 424.88 L477.06 424.41 L477.95 423.95 L478.85 423.53 L479.74 423.12 L480.63 422.74 L481.52 422.39 L482.42 422.05 L483.31 421.74 L484.20 421.44 L485.10 421.16 L485.99 420.91 L486.88 420.66 L487.77 420.44 L488.67 420.23 L489.56 420.03 L490.45 419.85 L491.35 419.68 L492.24 419.52 L493.13 419.37 L494.02 419.23 L494.92 419.10 L495.81 418.98 L496.70 418.87 L497.60 418.77 L498.49 418.68 L499.38 418.59 L500.27 418.51" fill="none" stroke="#70b8f4" stroke-width="1.3"/>
<line x1="452.95" y1="439.00" x2="452.95" y2="456.50" stroke="#70b8f4" stroke-width="0.9"/>
<line x1="450.75" y1="439.00" x2="455.15" y2="439.00" stroke="#70b8f4" stroke-width="0.9"/>
<line x1="450.75" y1="456.50" x2="455.15" y2="456.50" stroke="#70b8f4" stroke-width="0.9"/>
<line x1="468.73" y1="425.80" x2="468.73" y2="439.00" stroke="#70b8f4" stroke-width="0.9"/>
<line x1="466.53" y1="425.80" x2="470.93" y2="425.80" stroke="#70b8f4" stroke-width="0.9"/>
<line x1="466.53" y1="439.00" x2="470.93" y2="439.00" stroke="#70b8f4" stroke-width="0.9"/>
<line x1="500.27" y1="400.60" x2="500.27" y2="437.20" stroke="#70b8f4" stroke-width="0.9"/>
<line x1="498.07" y1="400.60" x2="502.47" y2="400.60" stroke="#70b8f4" stroke-width="0.9"/>
<line x1="498.07" y1="437.20" x2="502.47" y2="437.20" stroke="#70b8f4" stroke-width="0.9"/>
<line x1="500.27" y1="374.70" x2="500.27" y2="394.40" stroke="#3a3ad0" stroke-width="0.9"/>
<line x1="498.07" y1="374.70" x2="502.47" y2="374.70" stroke="#3a3ad0" stroke-width="0.9"/>
<line x1="498.07" y1="394.40" x2="502.47" y2="394.40" stroke="#3a3ad0" stroke-width="0.9"/>
<circle cx="353.60" cy="462.90" r="2.4" fill="none" stroke="#111" stroke-width="1.25"/>
<polygon points="355.56,460.52 361.06,460.52 358.31,465.48" fill="#5aacf2"/>
<polygon points="371.33,460.32 376.83,460.32 374.08,465.28" fill="#5aacf2"/>
<polygon points="387.11,460.12 392.61,460.12 389.86,465.08" fill="#5aacf2"/>
<polygon points="402.88,459.92 408.38,459.92 405.63,464.88" fill="#5aacf2"/>
<polygon points="418.65,458.52 424.15,458.52 421.40,463.48" fill="#5aacf2"/>
<polygon points="434.43,454.02 439.93,454.02 437.18,458.98" fill="#5aacf2"/>
<polygon points="450.20,444.22 455.70,444.22 452.95,449.18" fill="#5aacf2"/>
<polygon points="465.98,427.32 471.48,427.32 468.73,432.28" fill="#5aacf2"/>
<polygon points="481.75,420.02 487.25,420.02 484.50,424.98" fill="#5aacf2"/>
<polygon points="497.52,416.32 503.02,416.32 500.27,421.28" fill="#5aacf2"/>
<circle cx="358.31" cy="462.00" r="2.7" fill="#1010c8"/>
<circle cx="374.08" cy="461.80" r="2.7" fill="#1010c8"/>
<circle cx="389.86" cy="461.60" r="2.7" fill="#1010c8"/>
<circle cx="405.63" cy="461.40" r="2.7" fill="#1010c8"/>
<circle cx="421.40" cy="459.80" r="2.7" fill="#1010c8"/>
<circle cx="437.18" cy="453.90" r="2.7" fill="#1010c8"/>
<circle cx="452.95" cy="440.50" r="2.7" fill="#1010c8"/>
<circle cx="468.73" cy="422.30" r="2.7" fill="#1010c8"/>
<circle cx="484.50" cy="407.80" r="2.7" fill="#1010c8"/>
<circle cx="500.27" cy="384.60" r="2.7" fill="#1010c8"/>
</svg></body></html>
